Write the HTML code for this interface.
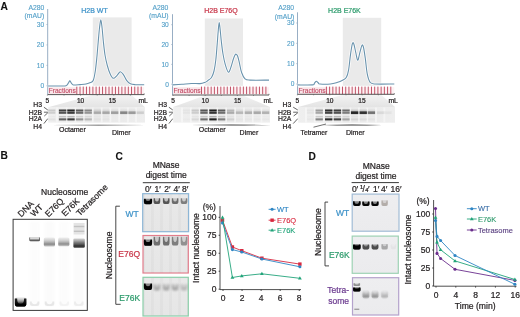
<!DOCTYPE html>
<html><head><meta charset="utf-8"><style>
html,body{margin:0;padding:0;background:#fff;}
svg{display:block;filter:blur(0.28px);font-family:'Liberation Sans', Arial, sans-serif;}
</style></head><body>
<svg width="520" height="317" viewBox="0 0 520 317">
<defs>
<filter id="b05" x="-50%" y="-50%" width="200%" height="200%"><feGaussianBlur stdDeviation="0.5"/></filter>
<filter id="b06" x="-50%" y="-50%" width="200%" height="200%"><feGaussianBlur stdDeviation="0.6"/></filter>
<filter id="b1" x="-50%" y="-50%" width="200%" height="200%"><feGaussianBlur stdDeviation="1"/></filter>
<linearGradient id="trap" x1="0" y1="0" x2="0" y2="1"><stop offset="0" stop-color="#f4f4f4"/><stop offset="0.5" stop-color="#ebebeb"/><stop offset="1" stop-color="#e4e4e4"/></linearGradient>
<linearGradient id="gelbg" x1="0" y1="0" x2="1" y2="0"><stop offset="0" stop-color="#efefef"/><stop offset="0.5" stop-color="#e8e8e8"/><stop offset="1" stop-color="#eeeeee"/></linearGradient>
<linearGradient id="boxg" x1="0" y1="0" x2="0" y2="1"><stop offset="0" stop-color="#e3e3e3"/><stop offset="1" stop-color="#e0e0e0"/></linearGradient>
<linearGradient id="smearg" x1="0" y1="0" x2="0" y2="1"><stop offset="0" stop-color="#999" stop-opacity="0.2"/><stop offset="0.55" stop-color="#666" stop-opacity="0.7"/><stop offset="1" stop-color="#333"/></linearGradient>
<linearGradient id="boxd" x1="0" y1="0" x2="0" y2="1"><stop offset="0" stop-color="#eeeef0"/><stop offset="1" stop-color="#ebebed"/></linearGradient>
<linearGradient id="smearB" x1="0" y1="0" x2="0" y2="1"><stop offset="0" stop-color="#bbb" stop-opacity="0.3"/><stop offset="0.35" stop-color="#999" stop-opacity="0.6"/><stop offset="0.75" stop-color="#666"/><stop offset="1" stop-color="#888" stop-opacity="0.6"/></linearGradient>
<linearGradient id="smearT" x1="0" y1="0" x2="0" y2="1"><stop offset="0" stop-color="#ccc" stop-opacity="0.5"/><stop offset="0.12" stop-color="#aaa" stop-opacity="0.7"/><stop offset="0.3" stop-color="#ccc" stop-opacity="0.6"/><stop offset="0.55" stop-color="#bbb" stop-opacity="0.7"/><stop offset="0.75" stop-color="#555"/><stop offset="0.92" stop-color="#333"/><stop offset="1" stop-color="#777" stop-opacity="0.6"/></linearGradient>
<linearGradient id="smearT2" x1="0" y1="0" x2="0" y2="1"><stop offset="0" stop-color="#aaa" stop-opacity="0.5"/><stop offset="0.45" stop-color="#666" stop-opacity="0.85"/><stop offset="0.8" stop-color="#333"/><stop offset="1" stop-color="#444"/></linearGradient>
<linearGradient id="dnag" x1="0" y1="0" x2="0" y2="1"><stop offset="0" stop-color="#999" stop-opacity="0.15"/><stop offset="0.45" stop-color="#555" stop-opacity="0.65"/><stop offset="0.75" stop-color="#000"/><stop offset="1" stop-color="#000"/></linearGradient>
<linearGradient id="bandg" x1="0" y1="0" x2="0" y2="1"><stop offset="0" stop-color="#777"/><stop offset="0.6" stop-color="#333"/><stop offset="1" stop-color="#111"/></linearGradient>
</defs>
<text x="0.50" y="9.70" font-size="10.2" fill="#111" stroke="#111" stroke-width="0.1" text-anchor="start" font-weight="bold" >A</text>
<rect x="92.80" y="17.40" width="38.80" height="68.40" fill="#eaeaea" />
<polygon points="92.8,95.1 131.6,95.1 145.0,107.2 48.2,107.2" fill="url(#trap)"/>
<rect x="48.30" y="87.20" width="28.50" height="7.00" fill="#f9e6e9" />
<rect x="76.80" y="87.20" width="67.40" height="7.00" fill="#fdf2f4" />
<line x1="76.80" y1="86.60" x2="76.80" y2="94.20" stroke="#c25468" stroke-width="1.0" />
<line x1="80.02" y1="86.60" x2="80.02" y2="94.20" stroke="#c25468" stroke-width="1.0" />
<line x1="83.24" y1="86.60" x2="83.24" y2="94.20" stroke="#c25468" stroke-width="1.0" />
<line x1="86.46" y1="86.60" x2="86.46" y2="94.20" stroke="#c25468" stroke-width="1.0" />
<line x1="89.68" y1="86.60" x2="89.68" y2="94.20" stroke="#c25468" stroke-width="1.0" />
<line x1="92.90" y1="86.60" x2="92.90" y2="94.20" stroke="#c25468" stroke-width="1.0" />
<line x1="96.12" y1="86.60" x2="96.12" y2="94.20" stroke="#c25468" stroke-width="1.0" />
<line x1="99.34" y1="86.60" x2="99.34" y2="94.20" stroke="#c25468" stroke-width="1.0" />
<line x1="102.56" y1="86.60" x2="102.56" y2="94.20" stroke="#c25468" stroke-width="1.0" />
<line x1="105.78" y1="86.60" x2="105.78" y2="94.20" stroke="#c25468" stroke-width="1.0" />
<line x1="109.00" y1="86.60" x2="109.00" y2="94.20" stroke="#c25468" stroke-width="1.0" />
<line x1="112.22" y1="86.60" x2="112.22" y2="94.20" stroke="#c25468" stroke-width="1.0" />
<line x1="115.44" y1="86.60" x2="115.44" y2="94.20" stroke="#c25468" stroke-width="1.0" />
<line x1="118.66" y1="86.60" x2="118.66" y2="94.20" stroke="#c25468" stroke-width="1.0" />
<line x1="121.88" y1="86.60" x2="121.88" y2="94.20" stroke="#c25468" stroke-width="1.0" />
<line x1="125.10" y1="86.60" x2="125.10" y2="94.20" stroke="#c25468" stroke-width="1.0" />
<line x1="128.32" y1="86.60" x2="128.32" y2="94.20" stroke="#c25468" stroke-width="1.0" />
<line x1="131.54" y1="86.60" x2="131.54" y2="94.20" stroke="#c25468" stroke-width="1.0" />
<line x1="134.76" y1="86.60" x2="134.76" y2="94.20" stroke="#c25468" stroke-width="1.0" />
<line x1="137.98" y1="86.60" x2="137.98" y2="94.20" stroke="#c25468" stroke-width="1.0" />
<line x1="141.20" y1="86.60" x2="141.20" y2="94.20" stroke="#c25468" stroke-width="1.0" />
<text x="48.70" y="93.20" font-size="6.6" fill="#c04a64" stroke="#c04a64" stroke-width="0.1" text-anchor="start" font-weight="normal" >Fractions</text>
<line x1="47.70" y1="9.00" x2="47.70" y2="94.60" stroke="#98aec4" stroke-width="1.0" />
<line x1="46.40" y1="85.80" x2="47.70" y2="85.80" stroke="#98aec4" stroke-width="0.7" />
<text x="44.20" y="88.20" font-size="6.6" fill="#55a0c8" stroke="#55a0c8" stroke-width="0.12" text-anchor="end" font-weight="normal" >0</text>
<line x1="46.40" y1="65.37" x2="47.70" y2="65.37" stroke="#98aec4" stroke-width="0.7" />
<text x="44.20" y="67.77" font-size="6.6" fill="#55a0c8" stroke="#55a0c8" stroke-width="0.12" text-anchor="end" font-weight="normal" >10</text>
<line x1="46.40" y1="44.93" x2="47.70" y2="44.93" stroke="#98aec4" stroke-width="0.7" />
<text x="44.20" y="47.33" font-size="6.6" fill="#55a0c8" stroke="#55a0c8" stroke-width="0.12" text-anchor="end" font-weight="normal" >20</text>
<line x1="46.40" y1="24.50" x2="47.70" y2="24.50" stroke="#98aec4" stroke-width="0.7" />
<text x="44.20" y="26.90" font-size="6.6" fill="#55a0c8" stroke="#55a0c8" stroke-width="0.12" text-anchor="end" font-weight="normal" >30</text>
<text x="44.40" y="9.80" font-size="6.8" fill="#55a0c8" stroke="#55a0c8" stroke-width="0.12" text-anchor="end" font-weight="normal" >A280</text>
<text x="44.20" y="18.00" font-size="6.8" fill="#55a0c8" stroke="#55a0c8" stroke-width="0.12" text-anchor="end" font-weight="normal" >(mAU)</text>
<path d="M47.70,86.00 C49.75,86.00 56.95,86.03 60.00,86.00 C63.05,85.97 64.62,86.27 66.00,85.80 C67.38,85.33 67.67,84.03 68.30,83.20 C68.93,82.37 69.28,80.80 69.80,80.80 C70.32,80.80 70.78,82.50 71.40,83.20 C72.02,83.90 72.07,84.77 73.50,85.00 C74.93,85.23 77.92,84.77 80.00,84.60 C82.08,84.43 84.25,84.33 86.00,84.00 C87.75,83.67 89.28,83.22 90.50,82.60 C91.72,81.98 92.50,82.23 93.30,80.30 C94.10,78.37 94.72,74.72 95.30,71.00 C95.88,67.28 96.32,62.83 96.80,58.00 C97.28,53.17 97.75,47.00 98.20,42.00 C98.65,37.00 99.07,31.70 99.50,28.00 C99.93,24.30 100.37,19.80 100.80,19.80 C101.23,19.80 101.67,24.30 102.10,28.00 C102.53,31.70 102.92,37.50 103.40,42.00 C103.88,46.50 104.35,51.08 105.00,55.00 C105.65,58.92 106.43,62.33 107.30,65.50 C108.17,68.67 109.20,71.87 110.20,74.00 C111.20,76.13 112.15,78.08 113.30,78.30 C114.45,78.52 115.93,76.40 117.10,75.30 C118.27,74.20 119.25,71.82 120.30,71.70 C121.35,71.58 122.35,73.17 123.40,74.60 C124.45,76.03 125.43,78.77 126.60,80.30 C127.77,81.83 128.93,83.07 130.40,83.80 C131.87,84.53 133.10,84.55 135.40,84.70 C137.70,84.85 142.73,84.70 144.20,84.70" fill="none" stroke="#fff" stroke-width="2.6" stroke-linejoin="round"/>
<path d="M47.70,86.00 C49.75,86.00 56.95,86.03 60.00,86.00 C63.05,85.97 64.62,86.27 66.00,85.80 C67.38,85.33 67.67,84.03 68.30,83.20 C68.93,82.37 69.28,80.80 69.80,80.80 C70.32,80.80 70.78,82.50 71.40,83.20 C72.02,83.90 72.07,84.77 73.50,85.00 C74.93,85.23 77.92,84.77 80.00,84.60 C82.08,84.43 84.25,84.33 86.00,84.00 C87.75,83.67 89.28,83.22 90.50,82.60 C91.72,81.98 92.50,82.23 93.30,80.30 C94.10,78.37 94.72,74.72 95.30,71.00 C95.88,67.28 96.32,62.83 96.80,58.00 C97.28,53.17 97.75,47.00 98.20,42.00 C98.65,37.00 99.07,31.70 99.50,28.00 C99.93,24.30 100.37,19.80 100.80,19.80 C101.23,19.80 101.67,24.30 102.10,28.00 C102.53,31.70 102.92,37.50 103.40,42.00 C103.88,46.50 104.35,51.08 105.00,55.00 C105.65,58.92 106.43,62.33 107.30,65.50 C108.17,68.67 109.20,71.87 110.20,74.00 C111.20,76.13 112.15,78.08 113.30,78.30 C114.45,78.52 115.93,76.40 117.10,75.30 C118.27,74.20 119.25,71.82 120.30,71.70 C121.35,71.58 122.35,73.17 123.40,74.60 C124.45,76.03 125.43,78.77 126.60,80.30 C127.77,81.83 128.93,83.07 130.40,83.80 C131.87,84.53 133.10,84.55 135.40,84.70 C137.70,84.85 142.73,84.70 144.20,84.70" fill="none" stroke="#6a93ad" stroke-width="1.1" stroke-linejoin="round"/>
<line x1="47.70" y1="94.60" x2="144.20" y2="94.60" stroke="#444" stroke-width="0.9" />
<line x1="144.20" y1="94.60" x2="144.20" y2="93.40" stroke="#555" stroke-width="0.7" />
<line x1="47.40" y1="94.60" x2="47.40" y2="95.60" stroke="#555" stroke-width="0.6" />
<line x1="64.00" y1="94.60" x2="64.00" y2="95.60" stroke="#555" stroke-width="0.6" />
<line x1="80.60" y1="94.60" x2="80.60" y2="95.60" stroke="#555" stroke-width="0.6" />
<line x1="97.20" y1="94.60" x2="97.20" y2="95.60" stroke="#555" stroke-width="0.6" />
<line x1="113.80" y1="94.60" x2="113.80" y2="95.60" stroke="#555" stroke-width="0.6" />
<line x1="130.40" y1="94.60" x2="130.40" y2="95.60" stroke="#555" stroke-width="0.6" />
<text x="47.40" y="103.10" font-size="6.6" fill="#231f20" stroke="#231f20" stroke-width="0.22" text-anchor="middle" font-weight="normal" >5</text>
<text x="80.60" y="103.10" font-size="6.6" fill="#231f20" stroke="#231f20" stroke-width="0.22" text-anchor="middle" font-weight="normal" >10</text>
<text x="112.30" y="103.10" font-size="6.6" fill="#231f20" stroke="#231f20" stroke-width="0.22" text-anchor="middle" font-weight="normal" >15</text>
<text x="138.40" y="103.10" font-size="6.8" fill="#231f20" stroke="#231f20" stroke-width="0.22" text-anchor="start" font-weight="normal" >mL</text>
<text x="81.30" y="12.80" font-size="7.0" fill="#3f93c9" stroke="#3f93c9" stroke-width="0.22" text-anchor="start" font-weight="normal" >H2B WT</text>
<text x="42.00" y="107.40" font-size="6.8" fill="#231f20" stroke="#231f20" stroke-width="0.22" text-anchor="end" font-weight="normal" >H3</text>
<text x="42.00" y="115.00" font-size="6.8" fill="#231f20" stroke="#231f20" stroke-width="0.22" text-anchor="end" font-weight="normal" >H2B</text>
<text x="42.00" y="120.50" font-size="6.8" fill="#231f20" stroke="#231f20" stroke-width="0.22" text-anchor="end" font-weight="normal" >H2A</text>
<text x="42.00" y="128.50" font-size="6.8" fill="#231f20" stroke="#231f20" stroke-width="0.22" text-anchor="end" font-weight="normal" >H4</text>
<line x1="43.90" y1="107.20" x2="47.80" y2="110.00" stroke="#333" stroke-width="0.75" />
<line x1="43.90" y1="112.20" x2="47.80" y2="112.20" stroke="#333" stroke-width="0.75" />
<line x1="44.30" y1="116.00" x2="47.80" y2="112.80" stroke="#333" stroke-width="0.75" />
<line x1="43.90" y1="123.60" x2="47.80" y2="118.60" stroke="#333" stroke-width="0.75" />
<rect x="48.20" y="107.20" width="96.80" height="15.40" fill="url(#gelbg)" />
<rect x="204.80" y="18.50" width="38.20" height="67.30" fill="#eaeaea" />
<polygon points="204.8,95.5 243.0,95.5 270.0,107.0 173.2,107.0" fill="url(#trap)"/>
<rect x="173.10" y="87.20" width="28.40" height="7.00" fill="#f9e6e9" />
<rect x="201.50" y="87.20" width="67.50" height="7.00" fill="#fdf2f4" />
<line x1="201.50" y1="86.60" x2="201.50" y2="94.20" stroke="#c25468" stroke-width="1.0" />
<line x1="204.72" y1="86.60" x2="204.72" y2="94.20" stroke="#c25468" stroke-width="1.0" />
<line x1="207.94" y1="86.60" x2="207.94" y2="94.20" stroke="#c25468" stroke-width="1.0" />
<line x1="211.16" y1="86.60" x2="211.16" y2="94.20" stroke="#c25468" stroke-width="1.0" />
<line x1="214.38" y1="86.60" x2="214.38" y2="94.20" stroke="#c25468" stroke-width="1.0" />
<line x1="217.60" y1="86.60" x2="217.60" y2="94.20" stroke="#c25468" stroke-width="1.0" />
<line x1="220.82" y1="86.60" x2="220.82" y2="94.20" stroke="#c25468" stroke-width="1.0" />
<line x1="224.04" y1="86.60" x2="224.04" y2="94.20" stroke="#c25468" stroke-width="1.0" />
<line x1="227.26" y1="86.60" x2="227.26" y2="94.20" stroke="#c25468" stroke-width="1.0" />
<line x1="230.48" y1="86.60" x2="230.48" y2="94.20" stroke="#c25468" stroke-width="1.0" />
<line x1="233.70" y1="86.60" x2="233.70" y2="94.20" stroke="#c25468" stroke-width="1.0" />
<line x1="236.92" y1="86.60" x2="236.92" y2="94.20" stroke="#c25468" stroke-width="1.0" />
<line x1="240.14" y1="86.60" x2="240.14" y2="94.20" stroke="#c25468" stroke-width="1.0" />
<line x1="243.36" y1="86.60" x2="243.36" y2="94.20" stroke="#c25468" stroke-width="1.0" />
<line x1="246.58" y1="86.60" x2="246.58" y2="94.20" stroke="#c25468" stroke-width="1.0" />
<line x1="249.80" y1="86.60" x2="249.80" y2="94.20" stroke="#c25468" stroke-width="1.0" />
<line x1="253.02" y1="86.60" x2="253.02" y2="94.20" stroke="#c25468" stroke-width="1.0" />
<line x1="256.24" y1="86.60" x2="256.24" y2="94.20" stroke="#c25468" stroke-width="1.0" />
<line x1="259.46" y1="86.60" x2="259.46" y2="94.20" stroke="#c25468" stroke-width="1.0" />
<line x1="262.68" y1="86.60" x2="262.68" y2="94.20" stroke="#c25468" stroke-width="1.0" />
<line x1="265.90" y1="86.60" x2="265.90" y2="94.20" stroke="#c25468" stroke-width="1.0" />
<text x="173.50" y="93.20" font-size="6.6" fill="#c04a64" stroke="#c04a64" stroke-width="0.1" text-anchor="start" font-weight="normal" >Fractions</text>
<line x1="172.50" y1="14.20" x2="172.50" y2="95.00" stroke="#98aec4" stroke-width="1.0" />
<line x1="171.20" y1="84.20" x2="172.50" y2="84.20" stroke="#98aec4" stroke-width="0.7" />
<text x="168.80" y="86.60" font-size="6.6" fill="#55a0c8" stroke="#55a0c8" stroke-width="0.12" text-anchor="end" font-weight="normal" >0</text>
<line x1="171.20" y1="64.37" x2="172.50" y2="64.37" stroke="#98aec4" stroke-width="0.7" />
<text x="168.80" y="66.77" font-size="6.6" fill="#55a0c8" stroke="#55a0c8" stroke-width="0.12" text-anchor="end" font-weight="normal" >10</text>
<line x1="171.20" y1="44.53" x2="172.50" y2="44.53" stroke="#98aec4" stroke-width="0.7" />
<text x="168.80" y="46.93" font-size="6.6" fill="#55a0c8" stroke="#55a0c8" stroke-width="0.12" text-anchor="end" font-weight="normal" >20</text>
<line x1="171.20" y1="24.70" x2="172.50" y2="24.70" stroke="#98aec4" stroke-width="0.7" />
<text x="168.80" y="27.10" font-size="6.6" fill="#55a0c8" stroke="#55a0c8" stroke-width="0.12" text-anchor="end" font-weight="normal" >30</text>
<text x="168.40" y="9.50" font-size="6.8" fill="#55a0c8" stroke="#55a0c8" stroke-width="0.12" text-anchor="end" font-weight="normal" >A280</text>
<text x="168.60" y="17.80" font-size="6.8" fill="#55a0c8" stroke="#55a0c8" stroke-width="0.12" text-anchor="end" font-weight="normal" >(mAU)</text>
<path d="M172.50,84.90 C174.05,84.80 178.67,84.53 181.80,84.30 C184.93,84.07 188.27,83.62 191.30,83.50 C194.33,83.38 197.80,83.75 200.00,83.60 C202.20,83.45 203.23,83.08 204.50,82.60 C205.77,82.12 206.43,81.55 207.60,80.70 C208.77,79.85 210.43,79.12 211.50,77.50 C212.57,75.88 213.28,73.92 214.00,71.00 C214.72,68.08 215.27,64.50 215.80,60.00 C216.33,55.50 216.78,49.00 217.20,44.00 C217.62,39.00 217.97,33.57 218.30,30.00 C218.63,26.43 218.88,22.60 219.20,22.60 C219.52,22.60 219.83,26.77 220.20,30.00 C220.57,33.23 220.93,38.00 221.40,42.00 C221.87,46.00 222.35,50.23 223.00,54.00 C223.65,57.77 224.40,61.57 225.30,64.60 C226.20,67.63 227.45,71.80 228.40,72.20 C229.35,72.60 230.20,69.12 231.00,67.00 C231.80,64.88 232.53,61.50 233.20,59.50 C233.87,57.50 234.50,55.88 235.00,55.00 C235.50,54.12 235.77,54.03 236.20,54.20 C236.63,54.37 237.10,54.70 237.60,56.00 C238.10,57.30 238.53,59.25 239.20,62.00 C239.87,64.75 240.63,69.70 241.60,72.50 C242.57,75.30 243.58,77.53 245.00,78.80 C246.42,80.07 246.10,79.88 250.10,80.10 C254.10,80.32 265.85,80.10 269.00,80.10" fill="none" stroke="#fff" stroke-width="2.6" stroke-linejoin="round"/>
<path d="M172.50,84.90 C174.05,84.80 178.67,84.53 181.80,84.30 C184.93,84.07 188.27,83.62 191.30,83.50 C194.33,83.38 197.80,83.75 200.00,83.60 C202.20,83.45 203.23,83.08 204.50,82.60 C205.77,82.12 206.43,81.55 207.60,80.70 C208.77,79.85 210.43,79.12 211.50,77.50 C212.57,75.88 213.28,73.92 214.00,71.00 C214.72,68.08 215.27,64.50 215.80,60.00 C216.33,55.50 216.78,49.00 217.20,44.00 C217.62,39.00 217.97,33.57 218.30,30.00 C218.63,26.43 218.88,22.60 219.20,22.60 C219.52,22.60 219.83,26.77 220.20,30.00 C220.57,33.23 220.93,38.00 221.40,42.00 C221.87,46.00 222.35,50.23 223.00,54.00 C223.65,57.77 224.40,61.57 225.30,64.60 C226.20,67.63 227.45,71.80 228.40,72.20 C229.35,72.60 230.20,69.12 231.00,67.00 C231.80,64.88 232.53,61.50 233.20,59.50 C233.87,57.50 234.50,55.88 235.00,55.00 C235.50,54.12 235.77,54.03 236.20,54.20 C236.63,54.37 237.10,54.70 237.60,56.00 C238.10,57.30 238.53,59.25 239.20,62.00 C239.87,64.75 240.63,69.70 241.60,72.50 C242.57,75.30 243.58,77.53 245.00,78.80 C246.42,80.07 246.10,79.88 250.10,80.10 C254.10,80.32 265.85,80.10 269.00,80.10" fill="none" stroke="#6a93ad" stroke-width="1.1" stroke-linejoin="round"/>
<line x1="172.50" y1="95.00" x2="269.00" y2="95.00" stroke="#444" stroke-width="0.9" />
<line x1="269.00" y1="95.00" x2="269.00" y2="93.80" stroke="#555" stroke-width="0.7" />
<line x1="173.00" y1="95.00" x2="173.00" y2="96.00" stroke="#555" stroke-width="0.6" />
<line x1="189.10" y1="95.00" x2="189.10" y2="96.00" stroke="#555" stroke-width="0.6" />
<line x1="205.20" y1="95.00" x2="205.20" y2="96.00" stroke="#555" stroke-width="0.6" />
<line x1="221.30" y1="95.00" x2="221.30" y2="96.00" stroke="#555" stroke-width="0.6" />
<line x1="237.40" y1="95.00" x2="237.40" y2="96.00" stroke="#555" stroke-width="0.6" />
<line x1="253.50" y1="95.00" x2="253.50" y2="96.00" stroke="#555" stroke-width="0.6" />
<text x="173.00" y="103.10" font-size="6.6" fill="#231f20" stroke="#231f20" stroke-width="0.22" text-anchor="middle" font-weight="normal" >5</text>
<text x="205.20" y="103.10" font-size="6.6" fill="#231f20" stroke="#231f20" stroke-width="0.22" text-anchor="middle" font-weight="normal" >10</text>
<text x="237.60" y="103.10" font-size="6.6" fill="#231f20" stroke="#231f20" stroke-width="0.22" text-anchor="middle" font-weight="normal" >15</text>
<text x="263.40" y="103.10" font-size="6.8" fill="#231f20" stroke="#231f20" stroke-width="0.22" text-anchor="start" font-weight="normal" >mL</text>
<text x="204.20" y="13.00" font-size="7.0" fill="#c8374a" stroke="#c8374a" stroke-width="0.22" text-anchor="start" font-weight="normal" >H2B E76Q</text>
<text x="167.00" y="107.40" font-size="6.8" fill="#231f20" stroke="#231f20" stroke-width="0.22" text-anchor="end" font-weight="normal" >H3</text>
<text x="167.00" y="115.00" font-size="6.8" fill="#231f20" stroke="#231f20" stroke-width="0.22" text-anchor="end" font-weight="normal" >H2B</text>
<text x="167.00" y="120.50" font-size="6.8" fill="#231f20" stroke="#231f20" stroke-width="0.22" text-anchor="end" font-weight="normal" >H2A</text>
<text x="167.00" y="128.50" font-size="6.8" fill="#231f20" stroke="#231f20" stroke-width="0.22" text-anchor="end" font-weight="normal" >H4</text>
<line x1="168.90" y1="107.20" x2="172.80" y2="110.00" stroke="#333" stroke-width="0.75" />
<line x1="168.90" y1="112.20" x2="172.80" y2="112.20" stroke="#333" stroke-width="0.75" />
<line x1="169.30" y1="116.00" x2="172.80" y2="112.80" stroke="#333" stroke-width="0.75" />
<line x1="168.90" y1="123.60" x2="172.80" y2="118.60" stroke="#333" stroke-width="0.75" />
<rect x="173.20" y="107.00" width="96.80" height="15.60" fill="url(#gelbg)" />
<rect x="342.80" y="17.80" width="38.40" height="68.00" fill="#eaeaea" />
<polygon points="342.8,94.8 381.2,94.8 395.0,107.0 298.2,107.0" fill="url(#trap)"/>
<rect x="298.10" y="87.20" width="28.30" height="7.00" fill="#f9e6e9" />
<rect x="326.40" y="87.20" width="67.90" height="7.00" fill="#fdf2f4" />
<line x1="326.40" y1="86.60" x2="326.40" y2="94.20" stroke="#c25468" stroke-width="1.0" />
<line x1="329.62" y1="86.60" x2="329.62" y2="94.20" stroke="#c25468" stroke-width="1.0" />
<line x1="332.84" y1="86.60" x2="332.84" y2="94.20" stroke="#c25468" stroke-width="1.0" />
<line x1="336.06" y1="86.60" x2="336.06" y2="94.20" stroke="#c25468" stroke-width="1.0" />
<line x1="339.28" y1="86.60" x2="339.28" y2="94.20" stroke="#c25468" stroke-width="1.0" />
<line x1="342.50" y1="86.60" x2="342.50" y2="94.20" stroke="#c25468" stroke-width="1.0" />
<line x1="345.72" y1="86.60" x2="345.72" y2="94.20" stroke="#c25468" stroke-width="1.0" />
<line x1="348.94" y1="86.60" x2="348.94" y2="94.20" stroke="#c25468" stroke-width="1.0" />
<line x1="352.16" y1="86.60" x2="352.16" y2="94.20" stroke="#c25468" stroke-width="1.0" />
<line x1="355.38" y1="86.60" x2="355.38" y2="94.20" stroke="#c25468" stroke-width="1.0" />
<line x1="358.60" y1="86.60" x2="358.60" y2="94.20" stroke="#c25468" stroke-width="1.0" />
<line x1="361.82" y1="86.60" x2="361.82" y2="94.20" stroke="#c25468" stroke-width="1.0" />
<line x1="365.04" y1="86.60" x2="365.04" y2="94.20" stroke="#c25468" stroke-width="1.0" />
<line x1="368.26" y1="86.60" x2="368.26" y2="94.20" stroke="#c25468" stroke-width="1.0" />
<line x1="371.48" y1="86.60" x2="371.48" y2="94.20" stroke="#c25468" stroke-width="1.0" />
<line x1="374.70" y1="86.60" x2="374.70" y2="94.20" stroke="#c25468" stroke-width="1.0" />
<line x1="377.92" y1="86.60" x2="377.92" y2="94.20" stroke="#c25468" stroke-width="1.0" />
<line x1="381.14" y1="86.60" x2="381.14" y2="94.20" stroke="#c25468" stroke-width="1.0" />
<line x1="384.36" y1="86.60" x2="384.36" y2="94.20" stroke="#c25468" stroke-width="1.0" />
<line x1="387.58" y1="86.60" x2="387.58" y2="94.20" stroke="#c25468" stroke-width="1.0" />
<line x1="390.80" y1="86.60" x2="390.80" y2="94.20" stroke="#c25468" stroke-width="1.0" />
<text x="298.50" y="93.20" font-size="6.6" fill="#c04a64" stroke="#c04a64" stroke-width="0.1" text-anchor="start" font-weight="normal" >Fractions</text>
<line x1="297.50" y1="12.30" x2="297.50" y2="94.30" stroke="#98aec4" stroke-width="1.0" />
<line x1="296.20" y1="84.00" x2="297.50" y2="84.00" stroke="#98aec4" stroke-width="0.7" />
<text x="294.40" y="86.40" font-size="6.6" fill="#55a0c8" stroke="#55a0c8" stroke-width="0.12" text-anchor="end" font-weight="normal" >0</text>
<line x1="296.20" y1="63.67" x2="297.50" y2="63.67" stroke="#98aec4" stroke-width="0.7" />
<text x="294.40" y="66.07" font-size="6.6" fill="#55a0c8" stroke="#55a0c8" stroke-width="0.12" text-anchor="end" font-weight="normal" >10</text>
<line x1="296.20" y1="43.33" x2="297.50" y2="43.33" stroke="#98aec4" stroke-width="0.7" />
<text x="294.40" y="45.73" font-size="6.6" fill="#55a0c8" stroke="#55a0c8" stroke-width="0.12" text-anchor="end" font-weight="normal" >20</text>
<line x1="296.20" y1="23.00" x2="297.50" y2="23.00" stroke="#98aec4" stroke-width="0.7" />
<text x="294.40" y="25.40" font-size="6.6" fill="#55a0c8" stroke="#55a0c8" stroke-width="0.12" text-anchor="end" font-weight="normal" >30</text>
<text x="294.10" y="9.90" font-size="6.8" fill="#55a0c8" stroke="#55a0c8" stroke-width="0.12" text-anchor="end" font-weight="normal" >A280</text>
<text x="294.40" y="18.60" font-size="6.8" fill="#55a0c8" stroke="#55a0c8" stroke-width="0.12" text-anchor="end" font-weight="normal" >(mAU)</text>
<path d="M297.50,84.90 C300.00,84.90 309.67,85.22 312.50,84.90 C315.33,84.58 313.87,83.60 314.50,83.00 C315.13,82.40 315.68,81.33 316.30,81.30 C316.92,81.27 317.58,82.35 318.20,82.80 C318.82,83.25 317.95,83.80 320.00,84.00 C322.05,84.20 327.67,84.25 330.50,84.00 C333.33,83.75 334.98,83.13 337.00,82.50 C339.02,81.87 341.03,81.07 342.60,80.20 C344.17,79.33 345.40,79.03 346.40,77.30 C347.40,75.57 347.92,73.58 348.60,69.80 C349.28,66.02 349.87,58.97 350.50,54.60 C351.13,50.23 351.83,45.33 352.40,43.60 C352.97,41.87 353.33,42.68 353.90,44.20 C354.47,45.72 355.17,50.02 355.80,52.70 C356.43,55.38 357.07,60.13 357.70,60.30 C358.33,60.47 358.90,56.17 359.60,53.70 C360.30,51.23 361.27,46.62 361.90,45.50 C362.53,44.38 362.83,44.85 363.40,47.00 C363.97,49.15 364.67,53.97 365.30,58.40 C365.93,62.83 366.42,69.65 367.20,73.60 C367.98,77.55 368.73,80.37 370.00,82.10 C371.27,83.83 370.75,83.68 374.80,84.00 C378.85,84.32 391.05,84.00 394.30,84.00" fill="none" stroke="#fff" stroke-width="2.6" stroke-linejoin="round"/>
<path d="M297.50,84.90 C300.00,84.90 309.67,85.22 312.50,84.90 C315.33,84.58 313.87,83.60 314.50,83.00 C315.13,82.40 315.68,81.33 316.30,81.30 C316.92,81.27 317.58,82.35 318.20,82.80 C318.82,83.25 317.95,83.80 320.00,84.00 C322.05,84.20 327.67,84.25 330.50,84.00 C333.33,83.75 334.98,83.13 337.00,82.50 C339.02,81.87 341.03,81.07 342.60,80.20 C344.17,79.33 345.40,79.03 346.40,77.30 C347.40,75.57 347.92,73.58 348.60,69.80 C349.28,66.02 349.87,58.97 350.50,54.60 C351.13,50.23 351.83,45.33 352.40,43.60 C352.97,41.87 353.33,42.68 353.90,44.20 C354.47,45.72 355.17,50.02 355.80,52.70 C356.43,55.38 357.07,60.13 357.70,60.30 C358.33,60.47 358.90,56.17 359.60,53.70 C360.30,51.23 361.27,46.62 361.90,45.50 C362.53,44.38 362.83,44.85 363.40,47.00 C363.97,49.15 364.67,53.97 365.30,58.40 C365.93,62.83 366.42,69.65 367.20,73.60 C367.98,77.55 368.73,80.37 370.00,82.10 C371.27,83.83 370.75,83.68 374.80,84.00 C378.85,84.32 391.05,84.00 394.30,84.00" fill="none" stroke="#6a93ad" stroke-width="1.1" stroke-linejoin="round"/>
<line x1="297.50" y1="94.30" x2="394.30" y2="94.30" stroke="#444" stroke-width="0.9" />
<line x1="394.30" y1="94.30" x2="394.30" y2="93.10" stroke="#555" stroke-width="0.7" />
<line x1="297.40" y1="94.30" x2="297.40" y2="95.30" stroke="#555" stroke-width="0.6" />
<line x1="313.60" y1="94.30" x2="313.60" y2="95.30" stroke="#555" stroke-width="0.6" />
<line x1="329.80" y1="94.30" x2="329.80" y2="95.30" stroke="#555" stroke-width="0.6" />
<line x1="346.00" y1="94.30" x2="346.00" y2="95.30" stroke="#555" stroke-width="0.6" />
<line x1="362.20" y1="94.30" x2="362.20" y2="95.30" stroke="#555" stroke-width="0.6" />
<line x1="378.40" y1="94.30" x2="378.40" y2="95.30" stroke="#555" stroke-width="0.6" />
<text x="297.40" y="103.10" font-size="6.6" fill="#231f20" stroke="#231f20" stroke-width="0.22" text-anchor="middle" font-weight="normal" >5</text>
<text x="329.80" y="103.10" font-size="6.6" fill="#231f20" stroke="#231f20" stroke-width="0.22" text-anchor="middle" font-weight="normal" >10</text>
<text x="361.90" y="103.10" font-size="6.6" fill="#231f20" stroke="#231f20" stroke-width="0.22" text-anchor="middle" font-weight="normal" >15</text>
<text x="388.40" y="103.10" font-size="6.8" fill="#231f20" stroke="#231f20" stroke-width="0.22" text-anchor="start" font-weight="normal" >mL</text>
<text x="328.10" y="12.60" font-size="7.0" fill="#2d9b6c" stroke="#2d9b6c" stroke-width="0.22" text-anchor="start" font-weight="normal" >H2B E76K</text>
<text x="291.30" y="107.40" font-size="6.8" fill="#231f20" stroke="#231f20" stroke-width="0.22" text-anchor="end" font-weight="normal" >H3</text>
<text x="291.30" y="115.00" font-size="6.8" fill="#231f20" stroke="#231f20" stroke-width="0.22" text-anchor="end" font-weight="normal" >H2B</text>
<text x="291.30" y="120.50" font-size="6.8" fill="#231f20" stroke="#231f20" stroke-width="0.22" text-anchor="end" font-weight="normal" >H2A</text>
<text x="291.30" y="128.50" font-size="6.8" fill="#231f20" stroke="#231f20" stroke-width="0.22" text-anchor="end" font-weight="normal" >H4</text>
<line x1="293.20" y1="107.20" x2="297.80" y2="110.00" stroke="#333" stroke-width="0.75" />
<line x1="293.20" y1="112.20" x2="297.80" y2="112.20" stroke="#333" stroke-width="0.75" />
<line x1="293.60" y1="116.00" x2="297.80" y2="112.80" stroke="#333" stroke-width="0.75" />
<line x1="293.20" y1="123.60" x2="297.80" y2="118.60" stroke="#333" stroke-width="0.75" />
<rect x="298.20" y="107.00" width="96.80" height="15.70" fill="url(#gelbg)" />
<rect x="56.25" y="107.5" width="1.8" height="14.8" fill="#fafafa" opacity="0.6" filter="url(#b05)"/>
<rect x="65.90" y="107.5" width="1.8" height="14.8" fill="#fafafa" opacity="0.6" filter="url(#b05)"/>
<rect x="74.40" y="107.5" width="1.8" height="14.8" fill="#fafafa" opacity="0.6" filter="url(#b05)"/>
<rect x="83.00" y="107.5" width="1.8" height="14.8" fill="#fafafa" opacity="0.6" filter="url(#b05)"/>
<rect x="91.90" y="107.5" width="1.8" height="14.8" fill="#fafafa" opacity="0.6" filter="url(#b05)"/>
<rect x="100.80" y="107.5" width="1.8" height="14.8" fill="#fafafa" opacity="0.6" filter="url(#b05)"/>
<rect x="109.45" y="107.5" width="1.8" height="14.8" fill="#fafafa" opacity="0.6" filter="url(#b05)"/>
<rect x="118.35" y="107.5" width="1.8" height="14.8" fill="#fafafa" opacity="0.6" filter="url(#b05)"/>
<rect x="127.00" y="107.5" width="1.8" height="14.8" fill="#fafafa" opacity="0.6" filter="url(#b05)"/>
<rect x="135.20" y="107.5" width="1.8" height="14.8" fill="#fafafa" opacity="0.6" filter="url(#b05)"/>
<rect x="48.00" y="109.5" width="7.4" height="1.9" fill="#111" opacity="0.12" filter="url(#b05)"/>
<rect x="48.00" y="111.9" width="7.4" height="1.9" fill="#111" opacity="0.10" filter="url(#b05)"/>
<rect x="48.00" y="109.5" width="7.4" height="4.3" fill="#333" opacity="0.04" filter="url(#b05)"/>
<rect x="48.00" y="118.3" width="7.4" height="2.1" fill="#111" opacity="0.05" filter="url(#b05)"/>
<rect x="48.00" y="116.0" width="7.4" height="1.4" fill="#333" opacity="0.02" filter="url(#b05)"/>
<rect x="58.90" y="109.5" width="7.4" height="1.9" fill="#111" opacity="0.75" filter="url(#b05)"/>
<rect x="58.90" y="111.9" width="7.4" height="1.9" fill="#111" opacity="0.64" filter="url(#b05)"/>
<rect x="58.90" y="109.5" width="7.4" height="4.3" fill="#333" opacity="0.22" filter="url(#b05)"/>
<rect x="58.90" y="118.3" width="7.4" height="2.1" fill="#111" opacity="0.62" filter="url(#b05)"/>
<rect x="58.90" y="116.0" width="7.4" height="1.4" fill="#333" opacity="0.22" filter="url(#b05)"/>
<rect x="67.30" y="109.5" width="7.4" height="1.9" fill="#111" opacity="0.90" filter="url(#b05)"/>
<rect x="67.30" y="111.9" width="7.4" height="1.9" fill="#111" opacity="0.77" filter="url(#b05)"/>
<rect x="67.30" y="109.5" width="7.4" height="4.3" fill="#333" opacity="0.27" filter="url(#b05)"/>
<rect x="67.30" y="118.3" width="7.4" height="2.1" fill="#111" opacity="0.78" filter="url(#b05)"/>
<rect x="67.30" y="116.0" width="7.4" height="1.4" fill="#333" opacity="0.27" filter="url(#b05)"/>
<rect x="75.90" y="109.5" width="7.4" height="1.9" fill="#111" opacity="0.60" filter="url(#b05)"/>
<rect x="75.90" y="111.9" width="7.4" height="1.9" fill="#111" opacity="0.51" filter="url(#b05)"/>
<rect x="75.90" y="109.5" width="7.4" height="4.3" fill="#333" opacity="0.18" filter="url(#b05)"/>
<rect x="75.90" y="118.3" width="7.4" height="2.1" fill="#111" opacity="0.38" filter="url(#b05)"/>
<rect x="75.90" y="116.0" width="7.4" height="1.4" fill="#333" opacity="0.13" filter="url(#b05)"/>
<rect x="84.50" y="109.5" width="7.4" height="1.9" fill="#111" opacity="0.38" filter="url(#b05)"/>
<rect x="84.50" y="111.9" width="7.4" height="1.9" fill="#111" opacity="0.32" filter="url(#b05)"/>
<rect x="84.50" y="109.5" width="7.4" height="4.3" fill="#333" opacity="0.11" filter="url(#b05)"/>
<rect x="84.50" y="118.3" width="7.4" height="2.1" fill="#111" opacity="0.22" filter="url(#b05)"/>
<rect x="84.50" y="116.0" width="7.4" height="1.4" fill="#333" opacity="0.08" filter="url(#b05)"/>
<rect x="93.70" y="109.5" width="7.4" height="1.9" fill="#111" opacity="0.08" filter="url(#b05)"/>
<rect x="93.70" y="111.9" width="7.4" height="1.9" fill="#111" opacity="0.07" filter="url(#b05)"/>
<rect x="93.70" y="109.5" width="7.4" height="4.3" fill="#333" opacity="0.02" filter="url(#b05)"/>
<rect x="93.70" y="118.3" width="7.4" height="2.1" fill="#111" opacity="0.03" filter="url(#b05)"/>
<rect x="93.70" y="116.0" width="7.4" height="1.4" fill="#333" opacity="0.01" filter="url(#b05)"/>
<rect x="93.70" y="111.3" width="7.4" height="2.8" fill="#111" opacity="0.20" filter="url(#b05)"/>
<rect x="102.30" y="109.5" width="7.4" height="1.9" fill="#111" opacity="0.05" filter="url(#b05)"/>
<rect x="102.30" y="111.9" width="7.4" height="1.9" fill="#111" opacity="0.04" filter="url(#b05)"/>
<rect x="102.30" y="109.5" width="7.4" height="4.3" fill="#333" opacity="0.01" filter="url(#b05)"/>
<rect x="102.30" y="118.3" width="7.4" height="2.1" fill="#111" opacity="0.02" filter="url(#b05)"/>
<rect x="102.30" y="116.0" width="7.4" height="1.4" fill="#333" opacity="0.01" filter="url(#b05)"/>
<rect x="102.30" y="111.3" width="7.4" height="2.8" fill="#111" opacity="0.25" filter="url(#b05)"/>
<rect x="111.00" y="109.5" width="7.4" height="1.9" fill="#111" opacity="0.04" filter="url(#b05)"/>
<rect x="111.00" y="111.9" width="7.4" height="1.9" fill="#111" opacity="0.03" filter="url(#b05)"/>
<rect x="111.00" y="109.5" width="7.4" height="4.3" fill="#333" opacity="0.01" filter="url(#b05)"/>
<rect x="111.00" y="111.3" width="7.4" height="2.8" fill="#111" opacity="0.30" filter="url(#b05)"/>
<rect x="120.10" y="109.5" width="7.4" height="1.9" fill="#111" opacity="0.04" filter="url(#b05)"/>
<rect x="120.10" y="111.9" width="7.4" height="1.9" fill="#111" opacity="0.03" filter="url(#b05)"/>
<rect x="120.10" y="109.5" width="7.4" height="4.3" fill="#333" opacity="0.01" filter="url(#b05)"/>
<rect x="120.10" y="111.3" width="7.4" height="2.8" fill="#111" opacity="0.42" filter="url(#b05)"/>
<rect x="128.30" y="109.5" width="7.4" height="1.9" fill="#111" opacity="0.03" filter="url(#b05)"/>
<rect x="128.30" y="111.9" width="7.4" height="1.9" fill="#111" opacity="0.03" filter="url(#b05)"/>
<rect x="128.30" y="109.5" width="7.4" height="4.3" fill="#333" opacity="0.01" filter="url(#b05)"/>
<rect x="128.30" y="111.3" width="7.4" height="2.8" fill="#111" opacity="0.32" filter="url(#b05)"/>
<rect x="136.50" y="109.5" width="7.4" height="1.9" fill="#111" opacity="0.01" filter="url(#b05)"/>
<rect x="136.50" y="111.9" width="7.4" height="1.9" fill="#111" opacity="0.01" filter="url(#b05)"/>
<rect x="136.50" y="109.5" width="7.4" height="4.3" fill="#333" opacity="0.00" filter="url(#b05)"/>
<rect x="136.50" y="111.3" width="7.4" height="2.8" fill="#111" opacity="0.12" filter="url(#b05)"/>
<rect x="181.10" y="107.5" width="1.8" height="14.8" fill="#fafafa" opacity="0.6" filter="url(#b05)"/>
<rect x="189.95" y="107.5" width="1.8" height="14.8" fill="#fafafa" opacity="0.6" filter="url(#b05)"/>
<rect x="198.70" y="107.5" width="1.8" height="14.8" fill="#fafafa" opacity="0.6" filter="url(#b05)"/>
<rect x="207.60" y="107.5" width="1.8" height="14.8" fill="#fafafa" opacity="0.6" filter="url(#b05)"/>
<rect x="216.40" y="107.5" width="1.8" height="14.8" fill="#fafafa" opacity="0.6" filter="url(#b05)"/>
<rect x="225.20" y="107.5" width="1.8" height="14.8" fill="#fafafa" opacity="0.6" filter="url(#b05)"/>
<rect x="234.15" y="107.5" width="1.8" height="14.8" fill="#fafafa" opacity="0.6" filter="url(#b05)"/>
<rect x="243.05" y="107.5" width="1.8" height="14.8" fill="#fafafa" opacity="0.6" filter="url(#b05)"/>
<rect x="251.90" y="107.5" width="1.8" height="14.8" fill="#fafafa" opacity="0.6" filter="url(#b05)"/>
<rect x="260.50" y="107.5" width="1.8" height="14.8" fill="#fafafa" opacity="0.6" filter="url(#b05)"/>
<rect x="182.80" y="109.5" width="7.4" height="1.9" fill="#111" opacity="0.02" filter="url(#b05)"/>
<rect x="182.80" y="111.9" width="7.4" height="1.9" fill="#111" opacity="0.02" filter="url(#b05)"/>
<rect x="182.80" y="109.5" width="7.4" height="4.3" fill="#333" opacity="0.01" filter="url(#b05)"/>
<rect x="182.80" y="118.3" width="7.4" height="2.1" fill="#111" opacity="0.01" filter="url(#b05)"/>
<rect x="182.80" y="116.0" width="7.4" height="1.4" fill="#333" opacity="0.00" filter="url(#b05)"/>
<rect x="191.50" y="109.5" width="7.4" height="1.9" fill="#111" opacity="0.12" filter="url(#b05)"/>
<rect x="191.50" y="111.9" width="7.4" height="1.9" fill="#111" opacity="0.10" filter="url(#b05)"/>
<rect x="191.50" y="109.5" width="7.4" height="4.3" fill="#333" opacity="0.04" filter="url(#b05)"/>
<rect x="191.50" y="118.3" width="7.4" height="2.1" fill="#111" opacity="0.08" filter="url(#b05)"/>
<rect x="191.50" y="116.0" width="7.4" height="1.4" fill="#333" opacity="0.03" filter="url(#b05)"/>
<rect x="200.30" y="109.5" width="7.4" height="1.9" fill="#111" opacity="0.62" filter="url(#b05)"/>
<rect x="200.30" y="111.9" width="7.4" height="1.9" fill="#111" opacity="0.53" filter="url(#b05)"/>
<rect x="200.30" y="109.5" width="7.4" height="4.3" fill="#333" opacity="0.19" filter="url(#b05)"/>
<rect x="200.30" y="118.3" width="7.4" height="2.1" fill="#111" opacity="0.55" filter="url(#b05)"/>
<rect x="200.30" y="116.0" width="7.4" height="1.4" fill="#333" opacity="0.19" filter="url(#b05)"/>
<rect x="209.30" y="109.5" width="7.4" height="1.9" fill="#111" opacity="0.95" filter="url(#b05)"/>
<rect x="209.30" y="111.9" width="7.4" height="1.9" fill="#111" opacity="0.81" filter="url(#b05)"/>
<rect x="209.30" y="109.5" width="7.4" height="4.3" fill="#333" opacity="0.28" filter="url(#b05)"/>
<rect x="209.30" y="118.3" width="7.4" height="2.1" fill="#111" opacity="0.90" filter="url(#b05)"/>
<rect x="209.30" y="116.0" width="7.4" height="1.4" fill="#333" opacity="0.32" filter="url(#b05)"/>
<rect x="217.90" y="109.5" width="7.4" height="1.9" fill="#111" opacity="0.58" filter="url(#b05)"/>
<rect x="217.90" y="111.9" width="7.4" height="1.9" fill="#111" opacity="0.49" filter="url(#b05)"/>
<rect x="217.90" y="109.5" width="7.4" height="4.3" fill="#333" opacity="0.17" filter="url(#b05)"/>
<rect x="217.90" y="118.3" width="7.4" height="2.1" fill="#111" opacity="0.48" filter="url(#b05)"/>
<rect x="217.90" y="116.0" width="7.4" height="1.4" fill="#333" opacity="0.17" filter="url(#b05)"/>
<rect x="226.90" y="109.5" width="7.4" height="1.9" fill="#111" opacity="0.18" filter="url(#b05)"/>
<rect x="226.90" y="111.9" width="7.4" height="1.9" fill="#111" opacity="0.15" filter="url(#b05)"/>
<rect x="226.90" y="109.5" width="7.4" height="4.3" fill="#333" opacity="0.05" filter="url(#b05)"/>
<rect x="226.90" y="118.3" width="7.4" height="2.1" fill="#111" opacity="0.10" filter="url(#b05)"/>
<rect x="226.90" y="116.0" width="7.4" height="1.4" fill="#333" opacity="0.03" filter="url(#b05)"/>
<rect x="226.90" y="111.3" width="7.4" height="2.8" fill="#111" opacity="0.10" filter="url(#b05)"/>
<rect x="235.80" y="109.5" width="7.4" height="1.9" fill="#111" opacity="0.04" filter="url(#b05)"/>
<rect x="235.80" y="111.9" width="7.4" height="1.9" fill="#111" opacity="0.03" filter="url(#b05)"/>
<rect x="235.80" y="109.5" width="7.4" height="4.3" fill="#333" opacity="0.01" filter="url(#b05)"/>
<rect x="235.80" y="118.3" width="7.4" height="2.1" fill="#111" opacity="0.02" filter="url(#b05)"/>
<rect x="235.80" y="116.0" width="7.4" height="1.4" fill="#333" opacity="0.01" filter="url(#b05)"/>
<rect x="235.80" y="111.3" width="7.4" height="2.8" fill="#111" opacity="0.18" filter="url(#b05)"/>
<rect x="244.70" y="109.5" width="7.4" height="1.9" fill="#111" opacity="0.04" filter="url(#b05)"/>
<rect x="244.70" y="111.9" width="7.4" height="1.9" fill="#111" opacity="0.03" filter="url(#b05)"/>
<rect x="244.70" y="109.5" width="7.4" height="4.3" fill="#333" opacity="0.01" filter="url(#b05)"/>
<rect x="244.70" y="118.3" width="7.4" height="2.1" fill="#111" opacity="0.02" filter="url(#b05)"/>
<rect x="244.70" y="116.0" width="7.4" height="1.4" fill="#333" opacity="0.01" filter="url(#b05)"/>
<rect x="244.70" y="111.3" width="7.4" height="2.8" fill="#111" opacity="0.22" filter="url(#b05)"/>
<rect x="253.50" y="109.5" width="7.4" height="1.9" fill="#111" opacity="0.04" filter="url(#b05)"/>
<rect x="253.50" y="111.9" width="7.4" height="1.9" fill="#111" opacity="0.03" filter="url(#b05)"/>
<rect x="253.50" y="109.5" width="7.4" height="4.3" fill="#333" opacity="0.01" filter="url(#b05)"/>
<rect x="253.50" y="118.3" width="7.4" height="2.1" fill="#111" opacity="0.02" filter="url(#b05)"/>
<rect x="253.50" y="116.0" width="7.4" height="1.4" fill="#333" opacity="0.01" filter="url(#b05)"/>
<rect x="253.50" y="111.3" width="7.4" height="2.8" fill="#111" opacity="0.26" filter="url(#b05)"/>
<rect x="261.90" y="109.5" width="7.4" height="1.9" fill="#111" opacity="0.03" filter="url(#b05)"/>
<rect x="261.90" y="111.9" width="7.4" height="1.9" fill="#111" opacity="0.03" filter="url(#b05)"/>
<rect x="261.90" y="109.5" width="7.4" height="4.3" fill="#333" opacity="0.01" filter="url(#b05)"/>
<rect x="261.90" y="118.3" width="7.4" height="2.1" fill="#111" opacity="0.02" filter="url(#b05)"/>
<rect x="261.90" y="116.0" width="7.4" height="1.4" fill="#333" opacity="0.01" filter="url(#b05)"/>
<rect x="261.90" y="111.3" width="7.4" height="2.8" fill="#111" opacity="0.22" filter="url(#b05)"/>
<rect x="305.10" y="107.5" width="1.8" height="14.8" fill="#fafafa" opacity="0.6" filter="url(#b05)"/>
<rect x="313.95" y="107.5" width="1.8" height="14.8" fill="#fafafa" opacity="0.6" filter="url(#b05)"/>
<rect x="323.05" y="107.5" width="1.8" height="14.8" fill="#fafafa" opacity="0.6" filter="url(#b05)"/>
<rect x="332.15" y="107.5" width="1.8" height="14.8" fill="#fafafa" opacity="0.6" filter="url(#b05)"/>
<rect x="340.80" y="107.5" width="1.8" height="14.8" fill="#fafafa" opacity="0.6" filter="url(#b05)"/>
<rect x="349.40" y="107.5" width="1.8" height="14.8" fill="#fafafa" opacity="0.6" filter="url(#b05)"/>
<rect x="358.00" y="107.5" width="1.8" height="14.8" fill="#fafafa" opacity="0.6" filter="url(#b05)"/>
<rect x="366.40" y="107.5" width="1.8" height="14.8" fill="#fafafa" opacity="0.6" filter="url(#b05)"/>
<rect x="375.10" y="107.5" width="1.8" height="14.8" fill="#fafafa" opacity="0.6" filter="url(#b05)"/>
<rect x="383.40" y="107.5" width="1.8" height="14.8" fill="#fafafa" opacity="0.6" filter="url(#b05)"/>
<rect x="306.80" y="109.5" width="7.4" height="1.9" fill="#111" opacity="0.02" filter="url(#b05)"/>
<rect x="306.80" y="111.9" width="7.4" height="1.9" fill="#111" opacity="0.02" filter="url(#b05)"/>
<rect x="306.80" y="109.5" width="7.4" height="4.3" fill="#333" opacity="0.01" filter="url(#b05)"/>
<rect x="306.80" y="118.3" width="7.4" height="2.1" fill="#111" opacity="0.02" filter="url(#b05)"/>
<rect x="306.80" y="116.0" width="7.4" height="1.4" fill="#333" opacity="0.01" filter="url(#b05)"/>
<rect x="315.50" y="109.5" width="7.4" height="1.9" fill="#111" opacity="0.30" filter="url(#b05)"/>
<rect x="315.50" y="111.9" width="7.4" height="1.9" fill="#111" opacity="0.26" filter="url(#b05)"/>
<rect x="315.50" y="109.5" width="7.4" height="4.3" fill="#333" opacity="0.09" filter="url(#b05)"/>
<rect x="315.50" y="118.3" width="7.4" height="2.1" fill="#111" opacity="0.45" filter="url(#b05)"/>
<rect x="315.50" y="116.0" width="7.4" height="1.4" fill="#333" opacity="0.16" filter="url(#b05)"/>
<rect x="325.00" y="109.5" width="7.4" height="1.9" fill="#111" opacity="0.85" filter="url(#b05)"/>
<rect x="325.00" y="111.9" width="7.4" height="1.9" fill="#111" opacity="0.72" filter="url(#b05)"/>
<rect x="325.00" y="109.5" width="7.4" height="4.3" fill="#333" opacity="0.26" filter="url(#b05)"/>
<rect x="325.00" y="118.3" width="7.4" height="2.1" fill="#111" opacity="0.85" filter="url(#b05)"/>
<rect x="325.00" y="116.0" width="7.4" height="1.4" fill="#333" opacity="0.30" filter="url(#b05)"/>
<rect x="333.70" y="109.5" width="7.4" height="1.9" fill="#111" opacity="0.75" filter="url(#b05)"/>
<rect x="333.70" y="111.9" width="7.4" height="1.9" fill="#111" opacity="0.64" filter="url(#b05)"/>
<rect x="333.70" y="109.5" width="7.4" height="4.3" fill="#333" opacity="0.22" filter="url(#b05)"/>
<rect x="333.70" y="118.3" width="7.4" height="2.1" fill="#111" opacity="0.75" filter="url(#b05)"/>
<rect x="333.70" y="116.0" width="7.4" height="1.4" fill="#333" opacity="0.26" filter="url(#b05)"/>
<rect x="342.30" y="109.5" width="7.4" height="1.9" fill="#111" opacity="0.50" filter="url(#b05)"/>
<rect x="342.30" y="111.9" width="7.4" height="1.9" fill="#111" opacity="0.42" filter="url(#b05)"/>
<rect x="342.30" y="109.5" width="7.4" height="4.3" fill="#333" opacity="0.15" filter="url(#b05)"/>
<rect x="342.30" y="118.3" width="7.4" height="2.1" fill="#111" opacity="0.30" filter="url(#b05)"/>
<rect x="342.30" y="116.0" width="7.4" height="1.4" fill="#333" opacity="0.10" filter="url(#b05)"/>
<rect x="350.90" y="109.5" width="7.4" height="1.9" fill="#111" opacity="0.10" filter="url(#b05)"/>
<rect x="350.90" y="111.9" width="7.4" height="1.9" fill="#111" opacity="0.09" filter="url(#b05)"/>
<rect x="350.90" y="109.5" width="7.4" height="4.3" fill="#333" opacity="0.03" filter="url(#b05)"/>
<rect x="350.90" y="118.3" width="7.4" height="2.1" fill="#111" opacity="0.08" filter="url(#b05)"/>
<rect x="350.90" y="116.0" width="7.4" height="1.4" fill="#333" opacity="0.03" filter="url(#b05)"/>
<rect x="350.90" y="111.3" width="7.4" height="2.8" fill="#111" opacity="0.85" filter="url(#b05)"/>
<rect x="359.50" y="109.5" width="7.4" height="1.9" fill="#111" opacity="0.10" filter="url(#b05)"/>
<rect x="359.50" y="111.9" width="7.4" height="1.9" fill="#111" opacity="0.09" filter="url(#b05)"/>
<rect x="359.50" y="109.5" width="7.4" height="4.3" fill="#333" opacity="0.03" filter="url(#b05)"/>
<rect x="359.50" y="118.3" width="7.4" height="2.1" fill="#111" opacity="0.06" filter="url(#b05)"/>
<rect x="359.50" y="116.0" width="7.4" height="1.4" fill="#333" opacity="0.02" filter="url(#b05)"/>
<rect x="359.50" y="111.3" width="7.4" height="2.8" fill="#111" opacity="0.80" filter="url(#b05)"/>
<rect x="367.70" y="109.5" width="7.4" height="1.9" fill="#111" opacity="0.05" filter="url(#b05)"/>
<rect x="367.70" y="111.9" width="7.4" height="1.9" fill="#111" opacity="0.04" filter="url(#b05)"/>
<rect x="367.70" y="109.5" width="7.4" height="4.3" fill="#333" opacity="0.01" filter="url(#b05)"/>
<rect x="367.70" y="118.3" width="7.4" height="2.1" fill="#111" opacity="0.03" filter="url(#b05)"/>
<rect x="367.70" y="116.0" width="7.4" height="1.4" fill="#333" opacity="0.01" filter="url(#b05)"/>
<rect x="367.70" y="111.3" width="7.4" height="2.8" fill="#111" opacity="0.50" filter="url(#b05)"/>
<rect x="376.90" y="111.3" width="7.4" height="2.8" fill="#111" opacity="0.08" filter="url(#b05)"/>
<rect x="384.30" y="111.3" width="7.4" height="2.8" fill="#111" opacity="0.04" filter="url(#b05)"/>
<path d="M51.0,125.1 Q98.5,124.2 146.0,125.1 Q98.5,126.0 51.0,125.1Z" fill="#222" opacity="0.85"/>
<text x="59.00" y="132.30" font-size="7.0" fill="#231f20" stroke="#231f20" stroke-width="0.22" text-anchor="start" font-weight="normal" >Octamer</text>
<text x="112.00" y="135.20" font-size="7.0" fill="#231f20" stroke="#231f20" stroke-width="0.22" text-anchor="start" font-weight="normal" >Dimer</text>
<path d="M191.0,125.0 Q231.0,124.1 271.0,125.0 Q231.0,125.9 191.0,125.0Z" fill="#222" opacity="0.85"/>
<text x="198.80" y="132.30" font-size="7.0" fill="#231f20" stroke="#231f20" stroke-width="0.22" text-anchor="start" font-weight="normal" >Octamer</text>
<text x="239.60" y="135.40" font-size="7.0" fill="#231f20" stroke="#231f20" stroke-width="0.22" text-anchor="start" font-weight="normal" >Dimer</text>
<path d="M313.5,127.2 L326,124.0" stroke="#333" stroke-width="0.7"/>
<path d="M322.0,125.0 Q352.0,123.9 382.0,125.0 Q352.0,126.1 322.0,125.0Z" fill="#222" opacity="0.9"/>
<text x="300.50" y="135.20" font-size="6.8" fill="#231f20" stroke="#231f20" stroke-width="0.22" text-anchor="start" font-weight="normal" >Tetramer</text>
<text x="346.00" y="135.40" font-size="7.0" fill="#231f20" stroke="#231f20" stroke-width="0.22" text-anchor="start" font-weight="normal" >Dimer</text>
<text x="0.50" y="159.40" font-size="10.2" fill="#111" stroke="#111" stroke-width="0.1" text-anchor="start" font-weight="bold" >B</text>
<text x="41.10" y="195.20" font-size="8.5" fill="#231f20" stroke="#231f20" stroke-width="0.22" text-anchor="start" font-weight="normal" >Nucleosome</text>
<text x="21.30" y="217.40" font-size="8.7" fill="#231f20" stroke="#231f20" stroke-width="0.22" text-anchor="start" font-weight="normal" transform="rotate(-45 21.3 217.4)">DNA</text>
<text x="34.00" y="217.20" font-size="8.7" fill="#231f20" stroke="#231f20" stroke-width="0.22" text-anchor="start" font-weight="normal" transform="rotate(-45 34.0 217.2)">WT</text>
<text x="48.60" y="217.40" font-size="8.7" fill="#231f20" stroke="#231f20" stroke-width="0.22" text-anchor="start" font-weight="normal" transform="rotate(-45 48.6 217.4)">E76Q</text>
<text x="65.10" y="216.80" font-size="8.7" fill="#231f20" stroke="#231f20" stroke-width="0.22" text-anchor="start" font-weight="normal" transform="rotate(-45 65.1 216.8)">E76K</text>
<text x="79.70" y="216.60" font-size="8.7" fill="#231f20" stroke="#231f20" stroke-width="0.22" text-anchor="start" font-weight="normal" transform="rotate(-45 79.7 216.6)">Tetrasome</text>
<rect x="13.1" y="219.3" width="74.2" height="91.1" fill="#fff" stroke="#3a3a3a" stroke-width="1"/>
<rect x="29.4" y="222" width="10.4" height="84" fill="#999" opacity="0.025" filter="url(#b1)"/>
<rect x="44.3" y="222" width="10.4" height="84" fill="#999" opacity="0.03" filter="url(#b1)"/>
<rect x="59.1" y="222" width="10.4" height="84" fill="#999" opacity="0.025" filter="url(#b1)"/>
<rect x="73.6" y="222" width="10.4" height="84" fill="#999" opacity="0.035" filter="url(#b1)"/>
<rect x="14.9" y="297.2" width="11.4" height="9.3" rx="2" fill="url(#dnag)" filter="url(#b06)"/>
<path d="M14.80,298.50 L14.80,302.90 Q14.80,306.50 17.70,306.50 L23.50,306.50 Q26.40,306.50 26.40,302.90 L26.40,298.50 L24.08,298.50 Q24.08,304.10 20.60,304.10 Q17.12,304.10 17.12,298.50 Z" fill="#000" opacity="0.85" filter="url(#b05)"/>
<rect x="29.4" y="236.9" width="10.6" height="4.3" rx="1" fill="#aaa" opacity="0.45" filter="url(#b05)"/>
<path d="M29.3,237.4 L29.3,240.0 Q29.3,241.3 30.8,241.3 L38.5,241.3 Q40.0,241.3 40.0,240.0 L40.0,237.4 L39.2,237.4 L39.2,239.4 L30.1,239.4 L30.1,237.4Z" fill="#333" opacity="0.75" filter="url(#b05)"/>
<rect x="43.8" y="237.4" width="11.2" height="9.0" rx="1.5" fill="url(#smearB)" opacity="0.78" filter="url(#b06)"/>
<rect x="58.2" y="237.4" width="11.2" height="8.8" rx="1.5" fill="url(#smearB)" opacity="0.75" filter="url(#b06)"/>
<rect x="73.6" y="223.0" width="11.0" height="11.5" fill="#aaa" opacity="0.28" filter="url(#b06)"/>
<rect x="73.8" y="225.8" width="10.6" height="1.4" fill="#777" opacity="0.3" filter="url(#b05)"/>
<rect x="73.8" y="230.6" width="10.6" height="1.4" fill="#777" opacity="0.3" filter="url(#b05)"/>
<rect x="73.4" y="238.4" width="11.4" height="9.3" rx="1.2" fill="url(#smearT2)" filter="url(#b06)"/>
<path d="M29.80,301.50 L29.80,303.98 Q29.80,306.00 32.20,306.00 L37.00,306.00 Q39.40,306.00 39.40,303.98 L39.40,301.50 L37.48,301.50 Q37.48,304.20 34.60,304.20 Q31.72,304.20 31.72,301.50 Z" fill="#555" opacity="0.12" filter="url(#b06)"/>
<path d="M44.70,301.50 L44.70,303.98 Q44.70,306.00 47.10,306.00 L51.90,306.00 Q54.30,306.00 54.30,303.98 L54.30,301.50 L52.38,301.50 Q52.38,304.20 49.50,304.20 Q46.62,304.20 46.62,301.50 Z" fill="#555" opacity="0.12" filter="url(#b06)"/>
<path d="M59.50,301.50 L59.50,303.98 Q59.50,306.00 61.90,306.00 L66.70,306.00 Q69.10,306.00 69.10,303.98 L69.10,301.50 L67.18,301.50 Q67.18,304.20 64.30,304.20 Q61.42,304.20 61.42,301.50 Z" fill="#555" opacity="0.05" filter="url(#b06)"/>
<path d="M74.00,301.50 L74.00,303.98 Q74.00,306.00 76.40,306.00 L81.20,306.00 Q83.60,306.00 83.60,303.98 L83.60,301.50 L81.68,301.50 Q81.68,304.20 78.80,304.20 Q75.92,304.20 75.92,301.50 Z" fill="#555" opacity="0.08" filter="url(#b06)"/>
<text x="115.60" y="159.80" font-size="10.2" fill="#111" stroke="#111" stroke-width="0.1" text-anchor="start" font-weight="bold" >C</text>
<text x="166.10" y="168.20" font-size="8.5" fill="#231f20" stroke="#231f20" stroke-width="0.22" text-anchor="middle" font-weight="normal" >MNase</text>
<text x="166.20" y="178.20" font-size="8.5" fill="#231f20" stroke="#231f20" stroke-width="0.22" text-anchor="middle" font-weight="normal" >digest time</text>
<line x1="142.80" y1="182.70" x2="189.80" y2="182.70" stroke="#222" stroke-width="0.9" />
<text x="145.00" y="191.60" font-size="8.5" fill="#231f20" stroke="#231f20" stroke-width="0.22" text-anchor="start" font-weight="normal" >0′</text>
<text x="154.60" y="191.60" font-size="8.5" fill="#231f20" stroke="#231f20" stroke-width="0.22" text-anchor="start" font-weight="normal" >1′</text>
<text x="164.30" y="191.60" font-size="8.5" fill="#231f20" stroke="#231f20" stroke-width="0.22" text-anchor="start" font-weight="normal" >2′</text>
<text x="173.60" y="191.60" font-size="8.5" fill="#231f20" stroke="#231f20" stroke-width="0.22" text-anchor="start" font-weight="normal" >4′</text>
<text x="182.00" y="191.60" font-size="8.5" fill="#231f20" stroke="#231f20" stroke-width="0.22" text-anchor="start" font-weight="normal" >8′</text>
<rect x="142.7" y="193.7" width="45.9" height="38.0" fill="url(#boxg)" stroke="#8db6d6" stroke-width="1.2"/>
<rect x="145.0" y="194.5" width="6.0" height="36" fill="#fff" opacity="0.22" filter="url(#b06)"/>
<rect x="153.9" y="194.5" width="6.0" height="36" fill="#fff" opacity="0.22" filter="url(#b06)"/>
<rect x="163.2" y="194.5" width="6.0" height="36" fill="#fff" opacity="0.22" filter="url(#b06)"/>
<rect x="172.1" y="194.5" width="6.0" height="36" fill="#fff" opacity="0.22" filter="url(#b06)"/>
<rect x="181.0" y="194.5" width="6.0" height="36" fill="#fff" opacity="0.22" filter="url(#b06)"/>
<rect x="143.90" y="198.70" width="8.20" height="5.60" rx="1.68" fill="#000" opacity="0.44" filter="url(#b05)"/>
<path d="M143.90,198.70 L143.90,201.78 Q143.90,204.30 145.95,204.30 L150.05,204.30 Q152.10,204.30 152.10,201.78 L152.10,198.70 L150.46,198.70 Q150.46,200.94 148.00,200.94 Q145.54,200.94 145.54,198.70 Z" fill="#000" opacity="0.97" filter="url(#b05)"/>
<rect x="153.60" y="198.20" width="6.60" height="5.80" rx="1.74" fill="#333" opacity="0.22" filter="url(#b06)"/>
<path d="M153.60,198.20 L153.60,201.39 Q153.60,204.00 155.25,204.00 L158.55,204.00 Q160.20,204.00 160.20,201.39 L160.20,198.20 L158.88,198.20 Q158.88,201.39 156.90,201.39 Q154.92,201.39 154.92,198.20 Z" fill="#333" opacity="0.75" filter="url(#b06)"/>
<rect x="162.90" y="198.20" width="6.60" height="5.80" rx="1.74" fill="#333" opacity="0.22" filter="url(#b06)"/>
<path d="M162.90,198.20 L162.90,201.39 Q162.90,204.00 164.55,204.00 L167.85,204.00 Q169.50,204.00 169.50,201.39 L169.50,198.20 L168.18,198.20 Q168.18,201.39 166.20,201.39 Q164.22,201.39 164.22,198.20 Z" fill="#333" opacity="0.75" filter="url(#b06)"/>
<rect x="171.80" y="198.20" width="6.60" height="5.80" rx="1.74" fill="#333" opacity="0.18" filter="url(#b06)"/>
<path d="M171.80,198.20 L171.80,201.39 Q171.80,204.00 173.45,204.00 L176.75,204.00 Q178.40,204.00 178.40,201.39 L178.40,198.20 L177.08,198.20 Q177.08,201.39 175.10,201.39 Q173.12,201.39 173.12,198.20 Z" fill="#333" opacity="0.60" filter="url(#b06)"/>
<rect x="180.70" y="198.20" width="6.60" height="5.80" rx="1.74" fill="#333" opacity="0.15" filter="url(#b06)"/>
<path d="M180.70,198.20 L180.70,201.39 Q180.70,204.00 182.35,204.00 L185.65,204.00 Q187.30,204.00 187.30,201.39 L187.30,198.20 L185.98,198.20 Q185.98,201.39 184.00,201.39 Q182.02,201.39 182.02,198.20 Z" fill="#333" opacity="0.50" filter="url(#b06)"/>
<rect x="143.0" y="235.5" width="45.3" height="37.5" fill="url(#boxg)" stroke="#e27d8c" stroke-width="1.2"/>
<rect x="145.0" y="236.3" width="6.0" height="36" fill="#fff" opacity="0.22" filter="url(#b06)"/>
<rect x="153.9" y="236.3" width="6.0" height="36" fill="#fff" opacity="0.22" filter="url(#b06)"/>
<rect x="163.2" y="236.3" width="6.0" height="36" fill="#fff" opacity="0.22" filter="url(#b06)"/>
<rect x="172.1" y="236.3" width="6.0" height="36" fill="#fff" opacity="0.22" filter="url(#b06)"/>
<rect x="181.0" y="236.3" width="6.0" height="36" fill="#fff" opacity="0.22" filter="url(#b06)"/>
<rect x="143.90" y="239.40" width="8.20" height="6.40" rx="1.92" fill="#000" opacity="0.44" filter="url(#b05)"/>
<path d="M143.90,239.40 L143.90,242.92 Q143.90,245.80 145.95,245.80 L150.05,245.80 Q152.10,245.80 152.10,242.92 L152.10,239.40 L150.46,239.40 Q150.46,241.96 148.00,241.96 Q145.54,241.96 145.54,239.40 Z" fill="#000" opacity="0.97" filter="url(#b05)"/>
<rect x="153.60" y="236.80" width="6.60" height="8.80" rx="1.98" fill="#3a3a3a" opacity="0.19" filter="url(#b06)"/>
<path d="M153.60,236.80 L153.60,241.64 Q153.60,245.60 155.25,245.60 L158.55,245.60 Q160.20,245.60 160.20,241.64 L160.20,236.80 L158.88,236.80 Q158.88,242.08 156.90,242.08 Q154.92,242.08 154.92,236.80 Z" fill="#3a3a3a" opacity="0.62" filter="url(#b06)"/>
<rect x="162.90" y="236.80" width="6.60" height="8.80" rx="1.98" fill="#3a3a3a" opacity="0.19" filter="url(#b06)"/>
<path d="M162.90,236.80 L162.90,241.64 Q162.90,245.60 164.55,245.60 L167.85,245.60 Q169.50,245.60 169.50,241.64 L169.50,236.80 L168.18,236.80 Q168.18,242.08 166.20,242.08 Q164.22,242.08 164.22,236.80 Z" fill="#3a3a3a" opacity="0.62" filter="url(#b06)"/>
<rect x="171.80" y="236.80" width="6.60" height="8.80" rx="1.98" fill="#3a3a3a" opacity="0.16" filter="url(#b06)"/>
<path d="M171.80,236.80 L171.80,241.64 Q171.80,245.60 173.45,245.60 L176.75,245.60 Q178.40,245.60 178.40,241.64 L178.40,236.80 L177.08,236.80 Q177.08,242.08 175.10,242.08 Q173.12,242.08 173.12,236.80 Z" fill="#3a3a3a" opacity="0.52" filter="url(#b06)"/>
<rect x="180.70" y="236.80" width="6.60" height="8.80" rx="1.98" fill="#3a3a3a" opacity="0.13" filter="url(#b06)"/>
<path d="M180.70,236.80 L180.70,241.64 Q180.70,245.60 182.35,245.60 L185.65,245.60 Q187.30,245.60 187.30,241.64 L187.30,236.80 L185.98,236.80 Q185.98,242.08 184.00,242.08 Q182.02,242.08 182.02,236.80 Z" fill="#3a3a3a" opacity="0.42" filter="url(#b06)"/>
<rect x="143.0" y="277.3" width="45.3" height="38.7" fill="url(#boxg)" stroke="#8ccfaa" stroke-width="1.2"/>
<rect x="145.0" y="278.1" width="6.0" height="37" fill="#fff" opacity="0.22" filter="url(#b06)"/>
<rect x="153.9" y="278.1" width="6.0" height="37" fill="#fff" opacity="0.22" filter="url(#b06)"/>
<rect x="163.2" y="278.1" width="6.0" height="37" fill="#fff" opacity="0.22" filter="url(#b06)"/>
<rect x="172.1" y="278.1" width="6.0" height="37" fill="#fff" opacity="0.22" filter="url(#b06)"/>
<rect x="181.0" y="278.1" width="6.0" height="37" fill="#fff" opacity="0.22" filter="url(#b06)"/>
<rect x="143.90" y="283.60" width="8.20" height="6.40" rx="1.92" fill="#000" opacity="0.44" filter="url(#b05)"/>
<path d="M143.90,283.60 L143.90,287.12 Q143.90,290.00 145.95,290.00 L150.05,290.00 Q152.10,290.00 152.10,287.12 L152.10,283.60 L150.46,283.60 Q150.46,286.16 148.00,286.16 Q145.54,286.16 145.54,283.60 Z" fill="#000" opacity="0.97" filter="url(#b05)"/>
<rect x="153.70" y="283.90" width="6.40" height="6.50" rx="1.92" fill="#444" opacity="0.14" filter="url(#b1)"/>
<path d="M153.70,283.90 L153.70,287.47 Q153.70,290.40 155.30,290.40 L158.50,290.40 Q160.10,290.40 160.10,287.47 L160.10,283.90 L158.82,283.90 Q158.82,287.15 156.90,287.15 Q154.98,287.15 154.98,283.90 Z" fill="#444" opacity="0.28" filter="url(#b1)"/>
<rect x="163.00" y="283.90" width="6.40" height="6.50" rx="1.92" fill="#444" opacity="0.14" filter="url(#b1)"/>
<path d="M163.00,283.90 L163.00,287.47 Q163.00,290.40 164.60,290.40 L167.80,290.40 Q169.40,290.40 169.40,287.47 L169.40,283.90 L168.12,283.90 Q168.12,287.15 166.20,287.15 Q164.28,287.15 164.28,283.90 Z" fill="#444" opacity="0.28" filter="url(#b1)"/>
<rect x="171.90" y="283.90" width="6.40" height="6.50" rx="1.92" fill="#444" opacity="0.14" filter="url(#b1)"/>
<path d="M171.90,283.90 L171.90,287.47 Q171.90,290.40 173.50,290.40 L176.70,290.40 Q178.30,290.40 178.30,287.47 L178.30,283.90 L177.02,283.90 Q177.02,287.15 175.10,287.15 Q173.18,287.15 173.18,283.90 Z" fill="#444" opacity="0.28" filter="url(#b1)"/>
<rect x="180.80" y="283.90" width="6.40" height="6.50" rx="1.92" fill="#444" opacity="0.10" filter="url(#b1)"/>
<path d="M180.80,283.90 L180.80,287.47 Q180.80,290.40 182.40,290.40 L185.60,290.40 Q187.20,290.40 187.20,287.47 L187.20,283.90 L185.92,283.90 Q185.92,287.15 184.00,287.15 Q182.08,287.15 182.08,283.90 Z" fill="#444" opacity="0.20" filter="url(#b1)"/>
<text x="138.60" y="217.00" font-size="8.5" fill="#3f93c9" stroke="#3f93c9" stroke-width="0.22" text-anchor="end" font-weight="normal" >WT</text>
<text x="140.10" y="257.40" font-size="8.5" fill="#c8374a" stroke="#c8374a" stroke-width="0.22" text-anchor="end" font-weight="normal" >E76Q</text>
<text x="140.10" y="300.90" font-size="8.5" fill="#2d9b6c" stroke="#2d9b6c" stroke-width="0.22" text-anchor="end" font-weight="normal" >E76K</text>
<path d="M119.9,206.2 L115.8,206.2 L115.8,304.3 L120.7,304.3" fill="none" stroke="#333" stroke-width="0.9"/>
<text x="112.30" y="255.40" font-size="8.6" fill="#231f20" stroke="#231f20" stroke-width="0.22" text-anchor="middle" font-weight="normal" transform="rotate(-90 112.3 255.4)">Nucleosome</text>
<line x1="220.00" y1="206.00" x2="220.00" y2="289.60" stroke="#222" stroke-width="0.8" />
<line x1="220.00" y1="289.60" x2="301.00" y2="289.60" stroke="#222" stroke-width="0.8" />
<line x1="218.60" y1="289.20" x2="220.00" y2="289.20" stroke="#222" stroke-width="0.8" />
<text x="216.50" y="292.20" font-size="8.5" fill="#231f20" stroke="#231f20" stroke-width="0.22" text-anchor="end" font-weight="normal" >0</text>
<line x1="218.60" y1="271.22" x2="220.00" y2="271.22" stroke="#222" stroke-width="0.8" />
<text x="216.50" y="274.22" font-size="8.5" fill="#231f20" stroke="#231f20" stroke-width="0.22" text-anchor="end" font-weight="normal" >25</text>
<line x1="218.60" y1="253.25" x2="220.00" y2="253.25" stroke="#222" stroke-width="0.8" />
<text x="216.50" y="256.25" font-size="8.5" fill="#231f20" stroke="#231f20" stroke-width="0.22" text-anchor="end" font-weight="normal" >50</text>
<line x1="218.60" y1="235.27" x2="220.00" y2="235.27" stroke="#222" stroke-width="0.8" />
<text x="216.50" y="238.27" font-size="8.5" fill="#231f20" stroke="#231f20" stroke-width="0.22" text-anchor="end" font-weight="normal" >75</text>
<line x1="218.60" y1="217.30" x2="220.00" y2="217.30" stroke="#222" stroke-width="0.8" />
<text x="216.50" y="220.30" font-size="8.5" fill="#231f20" stroke="#231f20" stroke-width="0.22" text-anchor="end" font-weight="normal" >100</text>
<line x1="223.00" y1="289.60" x2="223.00" y2="291.00" stroke="#222" stroke-width="0.8" />
<text x="223.00" y="301.30" font-size="8.5" fill="#231f20" stroke="#231f20" stroke-width="0.22" text-anchor="middle" font-weight="normal" >0</text>
<line x1="242.06" y1="289.60" x2="242.06" y2="291.00" stroke="#222" stroke-width="0.8" />
<text x="242.06" y="301.30" font-size="8.5" fill="#231f20" stroke="#231f20" stroke-width="0.22" text-anchor="middle" font-weight="normal" >2</text>
<line x1="261.12" y1="289.60" x2="261.12" y2="291.00" stroke="#222" stroke-width="0.8" />
<text x="261.12" y="301.30" font-size="8.5" fill="#231f20" stroke="#231f20" stroke-width="0.22" text-anchor="middle" font-weight="normal" >4</text>
<line x1="280.18" y1="289.60" x2="280.18" y2="291.00" stroke="#222" stroke-width="0.8" />
<text x="280.18" y="301.30" font-size="8.5" fill="#231f20" stroke="#231f20" stroke-width="0.22" text-anchor="middle" font-weight="normal" >6</text>
<line x1="299.24" y1="289.60" x2="299.24" y2="291.00" stroke="#222" stroke-width="0.8" />
<text x="299.24" y="301.30" font-size="8.5" fill="#231f20" stroke="#231f20" stroke-width="0.22" text-anchor="middle" font-weight="normal" >8</text>
<text x="209.30" y="209.50" font-size="8.5" fill="#231f20" stroke="#231f20" stroke-width="0.22" text-anchor="middle" font-weight="normal" >(%)</text>
<text x="198.60" y="248.00" font-size="8.6" fill="#231f20" stroke="#231f20" stroke-width="0.22" text-anchor="middle" font-weight="normal" transform="rotate(-90 198.6 248.0)">Intact nucleosome</text>
<polyline points="222.50,220.20 232.40,247.00 241.80,250.70 261.90,258.20 299.90,264.10" fill="none" stroke="#d8283f" stroke-width="0.9"/>
<rect x="220.80" y="218.50" width="3.4" height="3.4" fill="#d8283f"/>
<rect x="230.70" y="245.30" width="3.4" height="3.4" fill="#d8283f"/>
<rect x="240.10" y="249.00" width="3.4" height="3.4" fill="#d8283f"/>
<rect x="260.20" y="256.50" width="3.4" height="3.4" fill="#d8283f"/>
<rect x="298.20" y="262.40" width="3.4" height="3.4" fill="#d8283f"/>
<polyline points="222.50,222.90 232.40,249.60 241.80,252.00 261.90,259.00 299.90,266.80" fill="none" stroke="#2f86c4" stroke-width="0.9"/>
<circle cx="222.50" cy="222.90" r="1.55" fill="#2f86c4"/>
<circle cx="232.40" cy="249.60" r="1.55" fill="#2f86c4"/>
<circle cx="241.80" cy="252.00" r="1.55" fill="#2f86c4"/>
<circle cx="261.90" cy="259.00" r="1.55" fill="#2f86c4"/>
<circle cx="299.90" cy="266.80" r="1.55" fill="#2f86c4"/>
<polyline points="222.50,217.50 232.40,277.50 241.80,275.90 261.90,273.80 299.90,278.30" fill="none" stroke="#22a47a" stroke-width="0.9"/>
<path d="M222.50,215.50 L224.40,218.80 L220.60,218.80Z" fill="#22a47a"/>
<path d="M232.40,275.50 L234.30,278.80 L230.50,278.80Z" fill="#22a47a"/>
<path d="M241.80,273.90 L243.70,277.20 L239.90,277.20Z" fill="#22a47a"/>
<path d="M261.90,271.80 L263.80,275.10 L260.00,275.10Z" fill="#22a47a"/>
<path d="M299.90,276.30 L301.80,279.60 L298.00,279.60Z" fill="#22a47a"/>
<line x1="268.60" y1="209.30" x2="275.60" y2="209.30" stroke="#2f86c4" stroke-width="0.9" />
<circle cx="272.10" cy="209.30" r="1.55" fill="#2f86c4"/>
<text x="277.00" y="212.00" font-size="7.5" fill="#2f86c4" stroke="#2f86c4" stroke-width="0.12" text-anchor="start" font-weight="normal" >WT</text>
<line x1="268.60" y1="220.20" x2="275.60" y2="220.20" stroke="#d8283f" stroke-width="0.9" />
<rect x="270.40" y="218.50" width="3.4" height="3.4" fill="#d8283f"/>
<text x="277.00" y="222.90" font-size="7.5" fill="#d8283f" stroke="#d8283f" stroke-width="0.12" text-anchor="start" font-weight="normal" >E76Q</text>
<line x1="268.60" y1="230.20" x2="275.60" y2="230.20" stroke="#22a47a" stroke-width="0.9" />
<path d="M272.10,228.20 L274.00,231.50 L270.20,231.50Z" fill="#22a47a"/>
<text x="277.00" y="232.90" font-size="7.5" fill="#22a47a" stroke="#22a47a" stroke-width="0.12" text-anchor="start" font-weight="normal" >E76K</text>
<text x="308.40" y="159.80" font-size="10.2" fill="#111" stroke="#111" stroke-width="0.1" text-anchor="start" font-weight="bold" >D</text>
<text x="376.20" y="168.60" font-size="8.5" fill="#231f20" stroke="#231f20" stroke-width="0.22" text-anchor="middle" font-weight="normal" >MNase</text>
<text x="376.00" y="178.60" font-size="8.5" fill="#231f20" stroke="#231f20" stroke-width="0.22" text-anchor="middle" font-weight="normal" >digest time</text>
<line x1="351.60" y1="182.60" x2="398.90" y2="182.60" stroke="#222" stroke-width="0.9" />
<text x="351.90" y="191.60" font-size="8.5" fill="#231f20" stroke="#231f20" stroke-width="0.22" text-anchor="start" font-weight="normal" >0′</text>
<text x="360.00" y="188.90" font-size="5.6" fill="#231f20" stroke="#231f20" stroke-width="0.22" text-anchor="start" font-weight="normal" >1</text>
<text x="362.50" y="191.60" font-size="8.5" fill="#231f20" stroke="#231f20" stroke-width="0.22" text-anchor="start" font-weight="normal" >/</text>
<text x="365.20" y="191.60" font-size="5.6" fill="#231f20" stroke="#231f20" stroke-width="0.22" text-anchor="start" font-weight="normal" >4</text>
<text x="367.90" y="191.60" font-size="8.5" fill="#231f20" stroke="#231f20" stroke-width="0.22" text-anchor="start" font-weight="normal" >′</text>
<text x="373.10" y="191.60" font-size="8.5" fill="#231f20" stroke="#231f20" stroke-width="0.22" text-anchor="start" font-weight="normal" >1′</text>
<text x="381.00" y="191.60" font-size="8.5" fill="#231f20" stroke="#231f20" stroke-width="0.22" text-anchor="start" font-weight="normal" >4′</text>
<text x="390.60" y="191.60" font-size="8.5" fill="#231f20" stroke="#231f20" stroke-width="0.22" text-anchor="start" font-weight="normal" >16′</text>
<rect x="352.2" y="194.1" width="46.8" height="37.1" fill="url(#boxd)" stroke="#a2bcd6" stroke-width="1.2"/>
<rect x="353.00" y="201.20" width="7.60" height="4.80" rx="1.44" fill="#000" opacity="0.44" filter="url(#b05)"/>
<path d="M353.00,201.20 L353.00,203.84 Q353.00,206.00 354.90,206.00 L358.70,206.00 Q360.60,206.00 360.60,203.84 L360.60,201.20 L359.08,201.20 Q359.08,203.84 356.80,203.84 Q354.52,203.84 354.52,201.20 Z" fill="#000" opacity="0.97" filter="url(#b05)"/>
<rect x="362.30" y="201.40" width="7.20" height="4.60" rx="1.38" fill="#000" opacity="0.43" filter="url(#b05)"/>
<path d="M362.30,201.40 L362.30,203.93 Q362.30,206.00 364.10,206.00 L367.70,206.00 Q369.50,206.00 369.50,203.93 L369.50,201.40 L368.06,201.40 Q368.06,203.93 365.90,203.93 Q363.74,203.93 363.74,201.40 Z" fill="#000" opacity="0.95" filter="url(#b05)"/>
<rect x="371.40" y="201.40" width="7.20" height="4.60" rx="1.38" fill="#000" opacity="0.43" filter="url(#b05)"/>
<path d="M371.40,201.40 L371.40,203.93 Q371.40,206.00 373.20,206.00 L376.80,206.00 Q378.60,206.00 378.60,203.93 L378.60,201.40 L377.16,201.40 Q377.16,203.93 375.00,203.93 Q372.84,203.93 372.84,201.40 Z" fill="#000" opacity="0.95" filter="url(#b05)"/>
<rect x="381.40" y="200.20" width="6.40" height="5.80" rx="1.74" fill="#6a5a50" opacity="0.18" filter="url(#b06)"/>
<path d="M381.40,200.20 L381.40,203.39 Q381.40,206.00 383.00,206.00 L386.20,206.00 Q387.80,206.00 387.80,203.39 L387.80,200.20 L386.52,200.20 Q386.52,203.10 384.60,203.10 Q382.68,203.10 382.68,200.20 Z" fill="#6a5a50" opacity="0.30" filter="url(#b06)"/>
<rect x="352.2" y="236.1" width="46.1" height="37.2" fill="url(#boxd)" stroke="#9ed2b4" stroke-width="1.2"/>
<rect x="353.00" y="244.60" width="7.60" height="5.00" rx="1.50" fill="#000" opacity="0.78" filter="url(#b05)"/>
<path d="M353.00,244.60 L353.00,247.35 Q353.00,249.60 354.90,249.60 L358.70,249.60 Q360.60,249.60 360.60,247.35 L360.60,244.60 L359.08,244.60 Q359.08,246.10 356.80,246.10 Q354.52,246.10 354.52,244.60 Z" fill="#000" opacity="0.97" filter="url(#b05)"/>
<rect x="362.50" y="244.60" width="6.80" height="4.80" rx="1.44" fill="#222" opacity="0.43" filter="url(#b06)"/>
<path d="M362.50,244.60 L362.50,247.24 Q362.50,249.40 364.20,249.40 L367.60,249.40 Q369.30,249.40 369.30,247.24 L369.30,244.60 L367.94,244.60 Q367.94,246.52 365.90,246.52 Q363.86,246.52 363.86,244.60 Z" fill="#222" opacity="0.62" filter="url(#b06)"/>
<rect x="371.60" y="244.60" width="6.80" height="4.80" rx="1.44" fill="#222" opacity="0.43" filter="url(#b06)"/>
<path d="M371.60,244.60 L371.60,247.24 Q371.60,249.40 373.30,249.40 L376.70,249.40 Q378.40,249.40 378.40,247.24 L378.40,244.60 L377.04,244.60 Q377.04,246.52 375.00,246.52 Q372.96,246.52 372.96,244.60 Z" fill="#222" opacity="0.62" filter="url(#b06)"/>
<rect x="381.40" y="244.00" width="6.40" height="5.60" rx="1.68" fill="#555" opacity="0.19" filter="url(#b06)"/>
<path d="M381.40,244.00 L381.40,247.08 Q381.40,249.60 383.00,249.60 L386.20,249.60 Q387.80,249.60 387.80,247.08 L387.80,244.00 L386.52,244.00 Q386.52,246.24 384.60,246.24 Q382.68,246.24 382.68,244.00 Z" fill="#555" opacity="0.32" filter="url(#b06)"/>
<rect x="390.60" y="244.20" width="5.60" height="5.00" rx="1.50" fill="#555" opacity="0.01" filter="url(#b06)"/>
<path d="M390.60,244.20 L390.60,246.95 Q390.60,249.20 392.00,249.20 L394.80,249.20 Q396.20,249.20 396.20,246.95 L396.20,244.20 L395.08,244.20 Q395.08,246.70 393.40,246.70 Q391.72,246.70 391.72,244.20 Z" fill="#555" opacity="0.03" filter="url(#b06)"/>
<rect x="352.5" y="277.7" width="46.2" height="37.3" fill="url(#boxd)" stroke="#b4a2cc" stroke-width="1.2"/>
<rect x="353.10" y="287.40" width="7.40" height="4.20" rx="1.26" fill="#000" opacity="0.68" filter="url(#b05)"/>
<path d="M353.10,287.40 L353.10,289.71 Q353.10,291.60 354.95,291.60 L358.65,291.60 Q360.50,291.60 360.50,289.71 L360.50,287.40 L359.02,287.40 Q359.02,288.66 356.80,288.66 Q354.58,288.66 354.58,287.40 Z" fill="#000" opacity="0.97" filter="url(#b05)"/>
<rect x="353.50" y="283.20" width="6.60" height="2.80" rx="0.84" fill="#444" opacity="0.18" filter="url(#b05)"/>
<path d="M353.50,283.20 L353.50,284.74 Q353.50,286.00 355.15,286.00 L358.45,286.00 Q360.10,286.00 360.10,284.74 L360.10,283.20 L358.78,283.20 Q358.78,284.60 356.80,284.60 Q354.82,284.60 354.82,283.20 Z" fill="#444" opacity="0.45" filter="url(#b05)"/>
<rect x="362.5" y="290.0" width="6.8" height="8.6" rx="2" fill="url(#smearB)" opacity="0.41" filter="url(#b06)"/>
<rect x="362.70" y="292.60" width="6.40" height="5.00" rx="1.50" fill="#444" opacity="0.08" filter="url(#b1)"/>
<path d="M362.70,292.60 L362.70,295.35 Q362.70,297.60 364.30,297.60 L367.50,297.60 Q369.10,297.60 369.10,295.35 L369.10,292.60 L367.82,292.60 Q367.82,295.10 365.90,295.10 Q363.98,295.10 363.98,292.60 Z" fill="#444" opacity="0.27" filter="url(#b1)"/>
<rect x="371.6" y="290.0" width="6.8" height="8.6" rx="2" fill="url(#smearB)" opacity="0.41" filter="url(#b06)"/>
<rect x="371.80" y="292.60" width="6.40" height="5.00" rx="1.50" fill="#444" opacity="0.08" filter="url(#b1)"/>
<path d="M371.80,292.60 L371.80,295.35 Q371.80,297.60 373.40,297.60 L376.60,297.60 Q378.20,297.60 378.20,295.35 L378.20,292.60 L376.92,292.60 Q376.92,295.10 375.00,295.10 Q373.08,295.10 373.08,292.60 Z" fill="#444" opacity="0.27" filter="url(#b1)"/>
<rect x="381.2" y="290.0" width="6.8" height="8.6" rx="2" fill="url(#smearB)" opacity="0.24" filter="url(#b06)"/>
<rect x="381.40" y="292.60" width="6.40" height="5.00" rx="1.50" fill="#444" opacity="0.05" filter="url(#b1)"/>
<path d="M381.40,292.60 L381.40,295.35 Q381.40,297.60 383.00,297.60 L386.20,297.60 Q387.80,297.60 387.80,295.35 L387.80,292.60 L386.52,292.60 Q386.52,295.10 384.60,295.10 Q382.68,295.10 382.68,292.60 Z" fill="#444" opacity="0.16" filter="url(#b1)"/>
<rect x="354.3" y="308.6" width="5" height="1.4" fill="#333" opacity=".4" filter="url(#b05)"/>
<text x="349.30" y="216.00" font-size="8.5" fill="#3f93c9" stroke="#3f93c9" stroke-width="0.22" text-anchor="end" font-weight="normal" >WT</text>
<text x="349.70" y="257.90" font-size="8.5" fill="#2d9b6c" stroke="#2d9b6c" stroke-width="0.22" text-anchor="end" font-weight="normal" >E76K</text>
<text x="349.10" y="293.30" font-size="8.5" fill="#6b3a8f" stroke="#6b3a8f" stroke-width="0.22" text-anchor="end" font-weight="normal" >Tetra-</text>
<text x="349.10" y="303.90" font-size="8.5" fill="#6b3a8f" stroke="#6b3a8f" stroke-width="0.22" text-anchor="end" font-weight="normal" >some</text>
<path d="M328.1,202.1 L325.0,202.1 L325.0,265.9 L329.0,265.9" fill="none" stroke="#333" stroke-width="0.9"/>
<text x="321.00" y="232.00" font-size="8.6" fill="#231f20" stroke="#231f20" stroke-width="0.22" text-anchor="middle" font-weight="normal" transform="rotate(-90 321.0 232.0)">Nucleosome</text>
<line x1="433.60" y1="200.00" x2="433.60" y2="286.20" stroke="#222" stroke-width="0.8" />
<line x1="433.60" y1="286.20" x2="516.50" y2="286.20" stroke="#222" stroke-width="0.8" />
<line x1="432.20" y1="286.00" x2="433.60" y2="286.00" stroke="#222" stroke-width="0.8" />
<text x="430.20" y="289.00" font-size="8.5" fill="#231f20" stroke="#231f20" stroke-width="0.22" text-anchor="end" font-weight="normal" >0</text>
<line x1="432.20" y1="268.00" x2="433.60" y2="268.00" stroke="#222" stroke-width="0.8" />
<text x="430.20" y="271.00" font-size="8.5" fill="#231f20" stroke="#231f20" stroke-width="0.22" text-anchor="end" font-weight="normal" >25</text>
<line x1="432.20" y1="250.00" x2="433.60" y2="250.00" stroke="#222" stroke-width="0.8" />
<text x="430.20" y="253.00" font-size="8.5" fill="#231f20" stroke="#231f20" stroke-width="0.22" text-anchor="end" font-weight="normal" >50</text>
<line x1="432.20" y1="232.00" x2="433.60" y2="232.00" stroke="#222" stroke-width="0.8" />
<text x="430.20" y="235.00" font-size="8.5" fill="#231f20" stroke="#231f20" stroke-width="0.22" text-anchor="end" font-weight="normal" >75</text>
<line x1="432.20" y1="214.00" x2="433.60" y2="214.00" stroke="#222" stroke-width="0.8" />
<text x="430.20" y="217.00" font-size="8.5" fill="#231f20" stroke="#231f20" stroke-width="0.22" text-anchor="end" font-weight="normal" >100</text>
<line x1="436.00" y1="286.20" x2="436.00" y2="287.60" stroke="#222" stroke-width="0.8" />
<text x="436.00" y="297.80" font-size="8.5" fill="#231f20" stroke="#231f20" stroke-width="0.22" text-anchor="middle" font-weight="normal" >0</text>
<line x1="455.80" y1="286.20" x2="455.80" y2="287.60" stroke="#222" stroke-width="0.8" />
<text x="455.80" y="297.80" font-size="8.5" fill="#231f20" stroke="#231f20" stroke-width="0.22" text-anchor="middle" font-weight="normal" >4</text>
<line x1="475.60" y1="286.20" x2="475.60" y2="287.60" stroke="#222" stroke-width="0.8" />
<text x="475.60" y="297.80" font-size="8.5" fill="#231f20" stroke="#231f20" stroke-width="0.22" text-anchor="middle" font-weight="normal" >8</text>
<line x1="495.40" y1="286.20" x2="495.40" y2="287.60" stroke="#222" stroke-width="0.8" />
<text x="495.40" y="297.80" font-size="8.5" fill="#231f20" stroke="#231f20" stroke-width="0.22" text-anchor="middle" font-weight="normal" >12</text>
<line x1="515.20" y1="286.20" x2="515.20" y2="287.60" stroke="#222" stroke-width="0.8" />
<text x="515.20" y="297.80" font-size="8.5" fill="#231f20" stroke="#231f20" stroke-width="0.22" text-anchor="middle" font-weight="normal" >16</text>
<text x="423.00" y="203.80" font-size="8.5" fill="#231f20" stroke="#231f20" stroke-width="0.22" text-anchor="middle" font-weight="normal" >(%)</text>
<text x="411.00" y="249.50" font-size="8.6" fill="#231f20" stroke="#231f20" stroke-width="0.22" text-anchor="middle" font-weight="normal" transform="rotate(-90 411.0 249.5)">Intact nucleosome</text>
<text x="475.20" y="309.00" font-size="8.6" fill="#231f20" stroke="#231f20" stroke-width="0.22" text-anchor="middle" font-weight="normal" >Time (min)</text>
<polyline points="435.50,208.50 437.00,253.40 440.60,258.50 455.00,269.30 514.90,280.40" fill="none" stroke="#6a2e8c" stroke-width="0.9"/>
<circle cx="435.50" cy="208.50" r="1.55" fill="#6a2e8c"/>
<circle cx="437.00" cy="253.40" r="1.55" fill="#6a2e8c"/>
<circle cx="440.60" cy="258.50" r="1.55" fill="#6a2e8c"/>
<circle cx="455.00" cy="269.30" r="1.55" fill="#6a2e8c"/>
<circle cx="514.90" cy="280.40" r="1.55" fill="#6a2e8c"/>
<polyline points="435.50,217.50 437.00,242.30 440.60,249.80 455.00,260.90 514.90,279.50" fill="none" stroke="#22a47a" stroke-width="0.9"/>
<path d="M435.50,215.50 L437.40,218.80 L433.60,218.80Z" fill="#22a47a"/>
<path d="M437.00,240.30 L438.90,243.60 L435.10,243.60Z" fill="#22a47a"/>
<path d="M440.60,247.80 L442.50,251.10 L438.70,251.10Z" fill="#22a47a"/>
<path d="M455.00,258.90 L456.90,262.20 L453.10,262.20Z" fill="#22a47a"/>
<path d="M514.90,277.50 L516.80,280.80 L513.00,280.80Z" fill="#22a47a"/>
<polyline points="435.50,220.50 437.00,236.40 440.60,240.50 455.00,255.50 514.90,284.30" fill="none" stroke="#2f86c4" stroke-width="0.9"/>
<circle cx="435.50" cy="220.50" r="1.55" fill="#2f86c4"/>
<circle cx="437.00" cy="236.40" r="1.55" fill="#2f86c4"/>
<circle cx="440.60" cy="240.50" r="1.55" fill="#2f86c4"/>
<circle cx="455.00" cy="255.50" r="1.55" fill="#2f86c4"/>
<circle cx="514.90" cy="284.30" r="1.55" fill="#2f86c4"/>
<line x1="466.90" y1="208.70" x2="476.70" y2="208.70" stroke="#2f86c4" stroke-width="0.9" />
<circle cx="471.80" cy="208.70" r="1.55" fill="#2f86c4"/>
<text x="477.90" y="211.40" font-size="7.5" fill="#3d70a8" stroke="#3d70a8" stroke-width="0.12" text-anchor="start" font-weight="normal" >WT</text>
<line x1="466.90" y1="219.00" x2="476.70" y2="219.00" stroke="#22a47a" stroke-width="0.9" />
<path d="M471.80,217.00 L473.70,220.30 L469.90,220.30Z" fill="#22a47a"/>
<text x="477.90" y="221.70" font-size="7.5" fill="#2e9a6c" stroke="#2e9a6c" stroke-width="0.12" text-anchor="start" font-weight="normal" >E76K</text>
<line x1="466.90" y1="230.00" x2="476.70" y2="230.00" stroke="#6a2e8c" stroke-width="0.9" />
<circle cx="471.80" cy="230.00" r="1.55" fill="#6a2e8c"/>
<text x="477.90" y="232.70" font-size="7.5" fill="#5a4080" stroke="#5a4080" stroke-width="0.12" text-anchor="start" font-weight="normal" >Tetrasome</text>
</svg></body></html>
